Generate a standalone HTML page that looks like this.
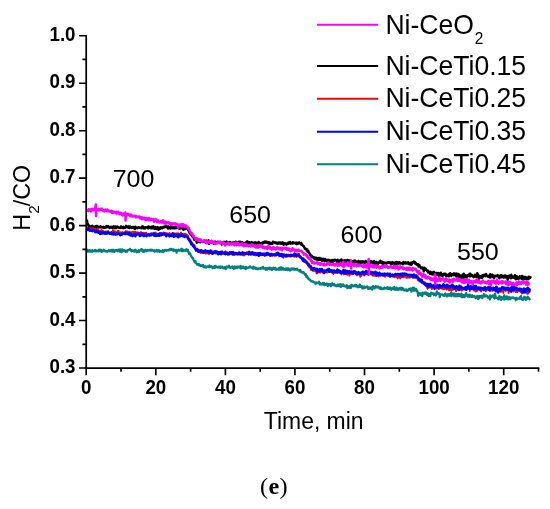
<!DOCTYPE html>
<html><head><meta charset="utf-8"><title>H2/CO vs Time (e)</title>
<style>
html,body{margin:0;padding:0;background:#fff;}
body{width:550px;height:509px;overflow:hidden;}
svg{display:block;}
text{font-family:"Liberation Sans",sans-serif;fill:#000;}
.tk{font-weight:bold;font-size:19.5px;}
.lg{font-size:27.6px;}
.an{font-size:24.4px;}
.ax{font-size:23.4px;}
.cap{font-family:"Liberation Serif",serif;font-size:23.6px;}
</style></head><body>
<svg width="550" height="509" viewBox="0 0 550 509">
<rect width="550" height="509" fill="#fff"/>

<g id="data">
<path d="M86.9 219.6 L87.3 222.7 L87.7 223.7 L88.1 224.8 L88.5 225.5 L88.9 227.5 L89.3 225.7 L89.7 226.4 L90.1 226.3 L90.5 226.6 L90.9 227.1 L91.3 226.3 L91.7 226.2 L92.1 225.8 L92.5 226.1 L92.9 227.2 L93.3 226.9 L93.7 226.4 L94.1 226.8 L94.5 226.9 L94.9 227.4 L95.3 226.6 L95.7 226.8 L96.1 225.9 L96.5 226.3 L96.9 228.2 L97.3 225.9 L97.7 227.0 L98.1 227.4 L98.5 227.0 L98.9 226.8 L99.3 227.3 L99.7 227.3 L100.1 227.4 L100.5 226.2 L100.9 227.2 L101.3 226.8 L101.7 227.0 L102.1 227.4 L102.5 227.6 L102.9 227.6 L103.3 226.8 L103.7 227.7 L104.1 227.8 L104.5 227.7 L104.9 227.8 L105.3 227.0 L105.7 226.8 L106.1 227.4 L106.5 226.1 L106.9 227.3 L107.3 226.8 L107.7 226.7 L108.1 226.0 L108.5 226.6 L108.9 227.2 L109.3 227.9 L109.7 228.0 L110.1 227.4 L110.5 227.2 L110.9 226.7 L111.3 227.4 L111.7 227.0 L112.1 227.6 L112.5 228.2 L112.9 227.2 L113.3 226.4 L113.7 226.8 L114.1 226.4 L114.5 226.7 L114.9 228.3 L115.3 227.7 L115.7 226.6 L116.1 227.8 L116.5 228.0 L116.9 226.8 L117.3 226.5 L117.7 226.7 L118.1 227.0 L118.5 227.4 L118.9 227.7 L119.3 227.7 L119.7 227.7 L120.1 228.0 L120.5 227.8 L120.9 226.4 L121.3 227.4 L121.7 227.8 L122.1 227.0 L122.5 227.9 L122.9 227.2 L123.3 226.7 L123.7 228.2 L124.1 227.6 L124.5 227.5 L124.9 227.9 L125.3 227.9 L125.7 227.5 L126.1 225.8 L126.5 226.7 L126.9 226.8 L127.3 226.5 L127.7 227.1 L128.1 227.7 L128.5 226.5 L128.9 226.2 L129.3 228.1 L129.7 226.7 L130.1 226.4 L130.5 227.3 L130.9 227.5 L131.3 227.1 L131.7 228.0 L132.1 227.3 L132.5 227.0 L132.9 227.6 L133.3 228.0 L133.7 227.1 L134.1 227.9 L134.5 227.4 L134.9 229.0 L135.3 226.7 L135.7 228.2 L136.1 227.3 L136.5 227.4 L136.9 227.9 L137.3 228.0 L137.7 228.2 L138.1 227.6 L138.5 227.1 L138.9 227.2 L139.3 227.7 L139.7 227.7 L140.1 228.0 L140.5 227.6 L140.9 228.0 L141.3 228.2 L141.7 227.4 L142.1 226.5 L142.5 226.6 L142.9 226.5 L143.3 228.4 L143.7 226.8 L144.1 228.1 L144.5 227.7 L144.9 228.5 L145.3 228.0 L145.7 227.2 L146.1 227.2 L146.5 227.4 L146.9 227.5 L147.3 227.1 L147.7 227.4 L148.1 228.4 L148.5 226.4 L148.9 227.7 L149.3 226.9 L149.7 227.6 L150.1 228.0 L150.5 227.6 L150.9 228.2 L151.3 226.6 L151.7 228.4 L152.1 227.4 L152.5 228.2 L152.9 227.9 L153.3 226.1 L153.7 227.3 L154.1 228.0 L154.5 228.9 L154.9 228.1 L155.3 228.1 L155.7 227.1 L156.1 228.9 L156.5 229.1 L156.9 228.3 L157.3 227.9 L157.7 227.1 L158.1 228.7 L158.5 229.8 L158.9 228.7 L159.3 229.1 L159.7 228.5 L160.1 227.4 L160.5 228.8 L160.9 227.2 L161.3 227.8 L161.7 228.1 L162.1 228.3 L162.5 227.6 L162.9 227.5 L163.3 226.9 L163.7 226.7 L164.1 227.5 L164.5 227.0 L164.9 226.5 L165.3 226.4 L165.7 227.0 L166.1 226.2 L166.5 226.5 L166.9 226.4 L167.3 227.5 L167.7 227.6 L168.1 228.6 L168.5 226.5 L168.9 226.9 L169.3 228.0 L169.7 227.4 L170.1 227.3 L170.5 228.6 L170.9 227.5 L171.3 227.0 L171.7 227.0 L172.1 228.1 L172.5 228.2 L172.9 227.0 L173.3 227.3 L173.7 228.3 L174.1 228.3 L174.5 227.3 L174.9 228.2 L175.3 228.2 L175.7 226.8 L176.1 227.5 L176.5 228.0 L176.9 227.3 L177.3 225.9 L177.7 227.0 L178.1 227.8 L178.5 228.3 L178.9 225.8 L179.3 228.7 L179.7 226.7 L180.1 228.1 L180.5 228.4 L180.9 228.6 L181.3 228.1 L181.7 227.3 L182.1 228.4 L182.5 227.7 L182.9 226.6 L183.3 229.9 L183.7 228.5 L184.1 229.3 L184.5 227.5 L184.9 228.9 L185.3 229.0 L185.7 228.9 L186.1 228.2 L186.5 227.8 L186.9 228.5 L187.3 227.8 L187.7 228.6 L188.1 230.2 L188.5 230.1 L188.9 231.1 L189.3 231.8 L189.7 233.4 L190.1 233.4 L190.5 233.1 L190.9 234.5 L191.3 233.8 L191.7 234.9 L192.1 236.3 L192.5 235.5 L192.9 236.6 L193.3 236.4 L193.7 238.1 L194.1 239.6 L194.5 238.7 L194.9 239.9 L195.3 239.7 L195.7 239.8 L196.1 239.9 L196.5 241.8 L196.9 242.7 L197.3 241.6 L197.7 241.0 L198.1 241.9 L198.5 241.3 L198.9 242.1 L199.3 242.0 L199.7 242.1 L200.1 242.3 L200.5 241.6 L200.9 241.4 L201.3 240.6 L201.7 241.5 L202.1 240.9 L202.5 241.7 L202.9 241.1 L203.3 241.7 L203.7 241.8 L204.1 240.7 L204.5 241.1 L204.9 241.1 L205.3 242.0 L205.7 242.7 L206.1 242.4 L206.5 241.6 L206.9 242.7 L207.3 241.1 L207.7 243.0 L208.1 241.6 L208.5 240.3 L208.9 243.9 L209.3 243.2 L209.7 241.5 L210.1 242.1 L210.5 242.0 L210.9 242.1 L211.3 241.0 L211.7 241.8 L212.1 242.4 L212.5 242.1 L212.9 242.9 L213.3 242.3 L213.7 243.9 L214.1 242.1 L214.5 242.9 L214.9 241.6 L215.3 241.7 L215.7 243.4 L216.1 242.1 L216.5 243.0 L216.9 242.5 L217.3 241.8 L217.7 242.0 L218.1 241.9 L218.5 242.0 L218.9 242.9 L219.3 242.9 L219.7 242.0 L220.1 241.7 L220.5 242.5 L220.9 242.4 L221.3 243.2 L221.7 244.4 L222.1 243.3 L222.5 242.8 L222.9 242.5 L223.3 242.2 L223.7 242.0 L224.1 241.8 L224.5 242.2 L224.9 242.2 L225.3 242.8 L225.7 241.9 L226.1 242.0 L226.5 241.4 L226.9 243.3 L227.3 243.0 L227.7 243.9 L228.1 243.2 L228.5 243.4 L228.9 242.4 L229.3 243.1 L229.7 244.3 L230.1 241.9 L230.5 243.3 L230.9 243.5 L231.3 242.8 L231.7 243.2 L232.1 243.6 L232.5 242.4 L232.9 243.1 L233.3 242.4 L233.7 242.5 L234.1 242.5 L234.5 242.6 L234.9 242.7 L235.3 242.8 L235.7 241.7 L236.1 243.9 L236.5 243.3 L236.9 242.9 L237.3 242.3 L237.7 242.6 L238.1 243.2 L238.5 243.1 L238.9 241.8 L239.3 243.2 L239.7 244.4 L240.1 241.6 L240.5 243.6 L240.9 243.0 L241.3 242.8 L241.7 243.8 L242.1 242.2 L242.5 243.0 L242.9 244.0 L243.3 242.9 L243.7 242.9 L244.1 243.2 L244.5 243.2 L244.9 244.3 L245.3 242.7 L245.7 243.5 L246.1 242.2 L246.5 243.5 L246.9 243.0 L247.3 241.3 L247.7 243.0 L248.1 242.1 L248.5 242.5 L248.9 243.7 L249.3 242.2 L249.7 242.2 L250.1 243.6 L250.5 242.9 L250.9 243.6 L251.3 242.7 L251.7 242.0 L252.1 242.7 L252.5 243.4 L252.9 243.2 L253.3 242.6 L253.7 242.6 L254.1 242.7 L254.5 242.4 L254.9 244.3 L255.3 243.0 L255.7 242.2 L256.1 242.8 L256.5 243.5 L256.9 243.5 L257.3 243.1 L257.7 242.8 L258.1 243.3 L258.5 241.9 L258.9 242.2 L259.3 243.6 L259.7 242.9 L260.1 243.4 L260.5 243.9 L260.9 243.4 L261.3 243.0 L261.7 244.2 L262.1 243.2 L262.5 242.6 L262.9 243.4 L263.3 243.0 L263.7 242.1 L264.1 242.7 L264.5 242.6 L264.9 241.4 L265.3 242.6 L265.7 242.6 L266.1 242.6 L266.5 241.7 L266.9 242.7 L267.3 242.9 L267.7 242.9 L268.1 242.1 L268.5 243.4 L268.9 242.2 L269.3 243.0 L269.7 243.9 L270.1 242.7 L270.5 242.8 L270.9 244.1 L271.3 243.2 L271.7 243.2 L272.1 243.3 L272.5 243.8 L272.9 241.7 L273.3 242.7 L273.7 242.5 L274.1 242.3 L274.5 242.2 L274.9 242.5 L275.3 243.1 L275.7 242.5 L276.1 243.2 L276.5 243.4 L276.9 242.5 L277.3 243.1 L277.7 244.0 L278.1 243.1 L278.5 242.5 L278.9 243.2 L279.3 242.6 L279.7 243.4 L280.1 243.5 L280.5 242.5 L280.9 242.9 L281.3 243.9 L281.7 243.0 L282.1 243.2 L282.5 242.3 L282.9 242.5 L283.3 242.9 L283.7 244.9 L284.1 243.3 L284.5 243.2 L284.9 243.2 L285.3 243.4 L285.7 243.9 L286.1 243.7 L286.5 244.7 L286.9 243.5 L287.3 244.1 L287.7 243.4 L288.1 243.7 L288.5 242.4 L288.9 243.1 L289.3 243.2 L289.7 243.1 L290.1 242.0 L290.5 243.8 L290.9 242.9 L291.3 242.9 L291.7 242.9 L292.1 242.9 L292.5 243.4 L292.9 242.2 L293.3 242.5 L293.7 243.2 L294.1 243.1 L294.5 242.9 L294.9 242.7 L295.3 242.6 L295.7 243.1 L296.1 243.9 L296.5 242.7 L296.9 244.2 L297.3 243.8 L297.7 243.0 L298.1 243.8 L298.5 242.4 L298.9 242.4 L299.3 242.5 L299.7 243.3 L300.1 243.5 L300.5 243.7 L300.9 244.3 L301.3 243.0 L301.7 244.9 L302.1 244.3 L302.5 245.2 L302.9 245.9 L303.3 245.7 L303.7 246.0 L304.1 246.8 L304.5 247.9 L304.9 248.8 L305.3 249.1 L305.7 248.6 L306.1 249.1 L306.5 249.2 L306.9 250.7 L307.3 249.4 L307.7 251.7 L308.1 250.8 L308.5 251.2 L308.9 252.5 L309.3 253.3 L309.7 253.5 L310.1 254.8 L310.5 254.5 L310.9 255.8 L311.3 256.3 L311.7 255.8 L312.1 257.2 L312.5 256.9 L312.9 257.2 L313.3 256.9 L313.7 257.6 L314.1 258.6 L314.5 257.5 L314.9 259.1 L315.3 259.2 L315.7 259.3 L316.1 257.6 L316.5 259.2 L316.9 259.6 L317.3 258.7 L317.7 259.5 L318.1 257.9 L318.5 260.0 L318.9 258.9 L319.3 259.9 L319.7 258.0 L320.1 259.6 L320.5 258.9 L320.9 259.8 L321.3 258.6 L321.7 258.9 L322.1 260.8 L322.5 258.9 L322.9 259.1 L323.3 259.2 L323.7 258.8 L324.1 260.7 L324.5 261.2 L324.9 259.6 L325.3 259.0 L325.7 261.1 L326.1 261.1 L326.5 261.0 L326.9 261.5 L327.3 260.1 L327.7 260.6 L328.1 259.9 L328.5 259.7 L328.9 261.4 L329.3 260.2 L329.7 262.4 L330.1 260.8 L330.5 260.5 L330.9 261.5 L331.3 262.1 L331.7 261.0 L332.1 259.9 L332.5 261.2 L332.9 261.7 L333.3 260.2 L333.7 260.0 L334.1 261.1 L334.5 260.4 L334.9 259.7 L335.3 260.3 L335.7 260.0 L336.1 260.7 L336.5 260.8 L336.9 261.7 L337.3 261.5 L337.7 259.8 L338.1 261.3 L338.5 261.6 L338.9 261.2 L339.3 261.7 L339.7 260.6 L340.1 260.2 L340.5 261.6 L340.9 260.0 L341.3 259.4 L341.7 261.7 L342.1 260.4 L342.5 261.0 L342.9 260.4 L343.3 260.6 L343.7 260.9 L344.1 261.5 L344.5 262.2 L344.9 260.2 L345.3 262.4 L345.7 261.0 L346.1 261.1 L346.5 262.0 L346.9 261.1 L347.3 259.9 L347.7 262.4 L348.1 260.2 L348.5 261.0 L348.9 261.1 L349.3 262.0 L349.7 260.6 L350.1 261.8 L350.5 260.7 L350.9 262.2 L351.3 260.6 L351.7 261.1 L352.1 262.8 L352.5 261.6 L352.9 261.3 L353.3 262.9 L353.7 261.6 L354.1 260.7 L354.5 261.7 L354.9 260.4 L355.3 262.3 L355.7 262.4 L356.1 261.2 L356.5 261.3 L356.9 262.2 L357.3 262.0 L357.7 261.4 L358.1 262.8 L358.5 261.0 L358.9 262.0 L359.3 261.8 L359.7 262.2 L360.1 262.7 L360.5 261.5 L360.9 262.9 L361.3 262.2 L361.7 261.8 L362.1 261.2 L362.5 261.3 L362.9 262.6 L363.3 261.4 L363.7 261.8 L364.1 262.5 L364.5 262.3 L364.9 262.9 L365.3 261.5 L365.7 260.9 L366.1 262.1 L366.5 261.7 L366.9 262.3 L367.3 261.9 L367.7 262.9 L368.1 262.7 L368.5 262.5 L368.9 262.3 L369.3 262.2 L369.7 262.3 L370.1 262.2 L370.5 262.5 L370.9 261.3 L371.3 262.6 L371.7 261.3 L372.1 262.3 L372.5 261.6 L372.9 261.6 L373.3 263.3 L373.7 261.5 L374.1 260.9 L374.5 261.3 L374.9 261.9 L375.3 263.9 L375.7 262.7 L376.1 263.3 L376.5 261.9 L376.9 263.1 L377.3 263.4 L377.7 264.4 L378.1 262.6 L378.5 263.3 L378.9 262.9 L379.3 261.8 L379.7 262.3 L380.1 262.2 L380.5 260.8 L380.9 262.9 L381.3 262.9 L381.7 262.3 L382.1 261.7 L382.5 263.7 L382.9 262.8 L383.3 263.6 L383.7 264.0 L384.1 262.3 L384.5 263.5 L384.9 262.7 L385.3 262.8 L385.7 262.7 L386.1 263.0 L386.5 263.6 L386.9 262.8 L387.3 262.5 L387.7 262.5 L388.1 262.8 L388.5 262.2 L388.9 262.3 L389.3 262.8 L389.7 262.2 L390.1 262.7 L390.5 262.5 L390.9 264.4 L391.3 263.6 L391.7 262.9 L392.1 262.2 L392.5 263.9 L392.9 262.6 L393.3 262.4 L393.7 262.9 L394.1 262.8 L394.5 263.6 L394.9 262.7 L395.3 264.2 L395.7 262.1 L396.1 263.3 L396.5 262.0 L396.9 263.8 L397.3 262.2 L397.7 262.4 L398.1 263.3 L398.5 263.7 L398.9 262.2 L399.3 262.9 L399.7 262.2 L400.1 263.5 L400.5 263.6 L400.9 263.4 L401.3 263.0 L401.7 263.2 L402.1 262.9 L402.5 263.8 L402.9 264.3 L403.3 261.9 L403.7 263.2 L404.1 262.8 L404.5 263.3 L404.9 262.4 L405.3 263.0 L405.7 262.3 L406.1 263.5 L406.5 263.2 L406.9 262.9 L407.3 263.2 L407.7 262.9 L408.1 262.3 L408.5 264.1 L408.9 263.8 L409.3 263.6 L409.7 264.3 L410.1 264.6 L410.5 262.8 L410.9 263.0 L411.3 264.8 L411.7 264.5 L412.1 262.5 L412.5 262.2 L412.9 262.5 L413.3 262.5 L413.7 261.6 L414.1 263.0 L414.5 262.0 L414.9 262.0 L415.3 263.8 L415.7 262.9 L416.1 263.6 L416.5 264.5 L416.9 264.8 L417.3 264.3 L417.7 264.7 L418.1 264.2 L418.5 266.6 L418.9 266.2 L419.3 265.0 L419.7 266.2 L420.1 266.9 L420.5 267.2 L420.9 268.4 L421.3 268.4 L421.7 267.5 L422.1 268.3 L422.5 267.4 L422.9 268.8 L423.3 268.9 L423.7 271.4 L424.1 269.4 L424.5 267.7 L424.9 269.1 L425.3 269.7 L425.7 268.7 L426.1 269.5 L426.5 270.2 L426.9 271.1 L427.3 270.6 L427.7 270.4 L428.1 272.6 L428.5 271.9 L428.9 272.2 L429.3 271.7 L429.7 272.5 L430.1 273.8 L430.5 271.8 L430.9 273.4 L431.3 274.2 L431.7 273.0 L432.1 273.5 L432.5 272.3 L432.9 274.6 L433.3 274.2 L433.7 273.5 L434.1 271.8 L434.5 272.6 L434.9 274.2 L435.3 275.0 L435.7 273.9 L436.1 274.7 L436.5 273.0 L436.9 273.3 L437.3 273.8 L437.7 274.6 L438.1 272.9 L438.5 275.4 L438.9 275.9 L439.3 273.5 L439.7 273.5 L440.1 275.3 L440.5 274.4 L440.9 272.7 L441.3 275.4 L441.7 274.8 L442.1 274.2 L442.5 276.5 L442.9 274.7 L443.3 274.0 L443.7 274.6 L444.1 273.8 L444.5 273.8 L444.9 274.7 L445.3 273.7 L445.7 273.9 L446.1 276.1 L446.5 275.3 L446.9 275.3 L447.3 275.0 L447.7 274.8 L448.1 275.8 L448.5 274.9 L448.9 276.4 L449.3 273.8 L449.7 274.4 L450.1 273.2 L450.5 274.2 L450.9 275.1 L451.3 275.9 L451.7 273.9 L452.1 274.5 L452.5 274.6 L452.9 274.0 L453.3 273.8 L453.7 275.2 L454.1 273.3 L454.5 275.1 L454.9 275.2 L455.3 274.6 L455.7 274.1 L456.1 273.6 L456.5 276.8 L456.9 273.6 L457.3 276.2 L457.7 275.6 L458.1 274.7 L458.5 274.1 L458.9 276.4 L459.3 277.2 L459.7 275.1 L460.1 275.6 L460.5 277.0 L460.9 276.4 L461.3 278.1 L461.7 275.9 L462.1 276.6 L462.5 274.6 L462.9 277.8 L463.3 274.9 L463.7 273.7 L464.1 275.6 L464.5 275.7 L464.9 277.5 L465.3 275.1 L465.7 275.9 L466.1 276.3 L466.5 277.2 L466.9 275.4 L467.3 276.5 L467.7 276.0 L468.1 275.1 L468.5 275.4 L468.9 275.2 L469.3 274.1 L469.7 276.2 L470.1 273.7 L470.5 276.3 L470.9 276.1 L471.3 275.2 L471.7 274.8 L472.1 275.3 L472.5 276.1 L472.9 276.6 L473.3 276.5 L473.7 277.2 L474.1 275.6 L474.5 276.2 L474.9 274.6 L475.3 276.5 L475.7 276.1 L476.1 275.5 L476.5 277.0 L476.9 276.3 L477.3 273.1 L477.7 275.9 L478.1 274.5 L478.5 277.2 L478.9 278.7 L479.3 276.0 L479.7 276.7 L480.1 276.3 L480.5 276.9 L480.9 277.2 L481.3 277.8 L481.7 275.7 L482.1 277.9 L482.5 275.2 L482.9 276.1 L483.3 276.5 L483.7 276.2 L484.1 274.6 L484.5 274.7 L484.9 274.9 L485.3 275.3 L485.7 276.3 L486.1 274.0 L486.5 275.6 L486.9 275.8 L487.3 275.5 L487.7 275.8 L488.1 276.8 L488.5 275.9 L488.9 276.1 L489.3 276.0 L489.7 277.4 L490.1 274.1 L490.5 277.5 L490.9 276.4 L491.3 276.2 L491.7 275.7 L492.1 274.7 L492.5 276.4 L492.9 276.0 L493.3 277.3 L493.7 275.5 L494.1 278.4 L494.5 276.8 L494.9 276.3 L495.3 275.9 L495.7 276.0 L496.1 275.5 L496.5 276.0 L496.9 276.3 L497.3 276.1 L497.7 275.1 L498.1 276.6 L498.5 275.9 L498.9 276.7 L499.3 278.3 L499.7 277.4 L500.1 276.4 L500.5 275.3 L500.9 275.6 L501.3 275.2 L501.7 277.3 L502.1 275.9 L502.5 276.6 L502.9 275.9 L503.3 276.1 L503.7 277.6 L504.1 275.6 L504.5 275.9 L504.9 275.6 L505.3 277.5 L505.7 275.7 L506.1 275.9 L506.5 276.0 L506.9 276.2 L507.3 277.7 L507.7 279.8 L508.1 276.2 L508.5 278.0 L508.9 276.8 L509.3 275.5 L509.7 276.2 L510.1 276.0 L510.5 275.7 L510.9 278.4 L511.3 274.8 L511.7 277.4 L512.1 276.8 L512.5 276.3 L512.9 277.1 L513.3 277.8 L513.7 277.2 L514.1 277.3 L514.5 277.5 L514.9 275.1 L515.3 278.3 L515.7 279.3 L516.1 278.4 L516.5 278.8 L516.9 276.3 L517.3 277.6 L517.7 277.4 L518.1 277.8 L518.5 279.3 L518.9 277.5 L519.3 278.2 L519.7 276.2 L520.1 277.5 L520.5 278.0 L520.9 277.2 L521.3 276.8 L521.7 279.0 L522.1 276.0 L522.5 276.1 L522.9 276.4 L523.3 278.5 L523.7 279.5 L524.1 277.8 L524.5 276.9 L524.9 277.3 L525.3 278.9 L525.7 277.0 L526.1 279.4 L526.5 279.3 L526.9 278.1 L527.3 278.6 L527.7 278.5 L528.1 279.2 L528.5 276.6 L528.9 278.8 L529.3 277.3 L529.7 277.0 L530.1 277.9 L530.5 277.1 L530.9 276.2" fill="none" stroke="#000000" stroke-width="2.4" stroke-linejoin="round" stroke-linecap="butt"/>
<path d="M87.0 227.9 L87.4 228.4 L87.8 228.0 L88.2 228.6 L88.6 229.9 L89.0 228.8 L89.4 228.8 L89.8 228.3 L90.2 228.3 L90.6 230.1 L91.0 227.9 L91.4 228.5 L91.8 229.4 L92.2 229.2 L92.6 231.3 L93.0 228.0 L93.4 230.4 L93.8 230.6 L94.2 229.2 L94.6 229.8 L95.0 230.5 L95.4 231.4 L95.8 229.6 L96.2 229.1 L96.6 231.2 L97.0 231.2 L97.4 229.9 L97.8 228.4 L98.2 231.5 L98.6 230.5 L99.0 231.6 L99.4 230.8 L99.8 230.6 L100.2 230.6 L100.6 232.5 L101.0 232.4 L101.4 229.8 L101.8 230.9 L102.2 232.8 L102.6 231.3 L103.0 230.5 L103.4 231.7 L103.8 231.6 L104.2 231.7 L104.6 231.6 L105.0 231.9 L105.4 231.6 L105.8 232.1 L106.2 231.3 L106.6 231.8 L107.0 231.9 L107.4 233.2 L107.8 232.6 L108.2 232.2 L108.6 232.6 L109.0 232.9 L109.4 233.6 L109.8 233.0 L110.2 234.0 L110.6 233.6 L111.0 232.2 L111.4 231.9 L111.8 232.9 L112.2 232.6 L112.6 231.8 L113.0 230.5 L113.4 230.1 L113.8 231.7 L114.2 232.3 L114.6 232.6 L115.0 231.3 L115.4 233.2 L115.8 232.0 L116.2 232.7 L116.6 232.5 L117.0 231.6 L117.4 231.9 L117.8 230.8 L118.2 231.6 L118.6 230.7 L119.0 232.4 L119.4 232.3 L119.8 233.2 L120.2 233.1 L120.6 232.3 L121.0 233.0 L121.4 232.5 L121.8 233.4 L122.2 233.2 L122.6 232.0 L123.0 232.8 L123.4 232.6 L123.8 232.5 L124.2 233.5 L124.6 234.4 L125.0 232.5 L125.4 232.5 L125.8 231.0 L126.2 232.8 L126.6 232.5 L127.0 231.2 L127.4 233.2 L127.8 233.4 L128.2 232.4 L128.6 232.7 L129.0 232.0 L129.4 233.4 L129.8 231.6 L130.2 232.6 L130.6 234.5 L131.0 232.8 L131.4 233.0 L131.8 232.5 L132.2 231.7 L132.6 232.6 L133.0 232.9 L133.4 231.9 L133.8 233.0 L134.2 233.6 L134.6 233.7 L135.0 231.7 L135.4 232.2 L135.8 231.9 L136.2 234.2 L136.6 233.7 L137.0 233.7 L137.4 232.5 L137.8 232.3 L138.2 233.3 L138.6 233.3 L139.0 232.6 L139.4 233.7 L139.8 234.0 L140.2 233.8 L140.6 233.0 L141.0 231.9 L141.4 233.3 L141.8 233.6 L142.2 233.6 L142.6 233.4 L143.0 232.8 L143.4 233.9 L143.8 233.3 L144.2 233.4 L144.6 232.8 L145.0 232.9 L145.4 233.6 L145.8 232.6 L146.2 232.7 L146.6 233.6 L147.0 234.8 L147.4 234.2 L147.8 235.4 L148.2 234.3 L148.6 234.5 L149.0 233.7 L149.4 234.2 L149.8 235.6 L150.2 234.7 L150.6 235.0 L151.0 234.8 L151.4 233.9 L151.8 233.4 L152.2 233.3 L152.6 233.8 L153.0 233.6 L153.4 233.4 L153.8 233.2 L154.2 232.6 L154.6 233.1 L155.0 233.0 L155.4 234.8 L155.8 232.5 L156.2 234.1 L156.6 236.2 L157.0 234.3 L157.4 233.7 L157.8 234.4 L158.2 235.4 L158.6 234.0 L159.0 234.3 L159.4 234.0 L159.8 233.3 L160.2 235.9 L160.6 233.6 L161.0 233.0 L161.4 233.1 L161.8 233.7 L162.2 233.7 L162.6 234.0 L163.0 233.6 L163.4 232.4 L163.8 234.2 L164.2 233.5 L164.6 233.5 L165.0 232.6 L165.4 233.6 L165.8 233.5 L166.2 234.2 L166.6 233.2 L167.0 234.4 L167.4 234.4 L167.8 233.5 L168.2 234.0 L168.6 234.0 L169.0 235.3 L169.4 232.8 L169.8 234.4 L170.2 233.5 L170.6 234.4 L171.0 235.2 L171.4 234.1 L171.8 234.6 L172.2 233.6 L172.6 235.7 L173.0 234.7 L173.4 235.1 L173.8 233.1 L174.2 233.1 L174.6 235.1 L175.0 234.0 L175.4 234.1 L175.8 234.6 L176.2 233.1 L176.6 234.8 L177.0 234.0 L177.4 234.2 L177.8 233.3 L178.2 234.2 L178.6 233.5 L179.0 234.3 L179.4 234.7 L179.8 234.8 L180.2 234.7 L180.6 234.9 L181.0 232.4 L181.4 235.5 L181.8 234.7 L182.2 234.7 L182.6 234.7 L183.0 233.7 L183.4 234.2 L183.8 235.1 L184.2 235.6 L184.6 234.0 L185.0 233.7 L185.4 235.5 L185.8 233.8 L186.2 236.2 L186.6 234.9 L187.0 234.6 L187.4 236.6 L187.8 237.7 L188.2 236.0 L188.6 239.0 L189.0 238.2 L189.4 240.4 L189.8 239.5 L190.2 239.4 L190.6 241.6 L191.0 242.4 L191.4 243.9 L191.8 244.1 L192.2 243.8 L192.6 243.9 L193.0 244.2 L193.4 245.0 L193.8 245.2 L194.2 246.3 L194.6 245.0 L195.0 248.0 L195.4 248.4 L195.8 251.1 L196.2 250.3 L196.6 249.7 L197.0 250.7 L197.4 249.4 L197.8 250.1 L198.2 249.5 L198.6 252.1 L199.0 251.8 L199.4 250.6 L199.8 251.7 L200.2 252.8 L200.6 252.7 L201.0 253.1 L201.4 252.0 L201.8 251.9 L202.2 252.6 L202.6 253.1 L203.0 251.7 L203.4 251.1 L203.8 252.9 L204.2 251.4 L204.6 252.8 L205.0 252.3 L205.4 253.1 L205.8 253.7 L206.2 253.0 L206.6 253.1 L207.0 252.1 L207.4 252.3 L207.8 253.3 L208.2 253.8 L208.6 253.6 L209.0 254.2 L209.4 252.6 L209.8 252.4 L210.2 253.1 L210.6 252.3 L211.0 252.0 L211.4 251.4 L211.8 253.0 L212.2 251.4 L212.6 252.7 L213.0 251.4 L213.4 253.2 L213.8 251.6 L214.2 253.3 L214.6 251.7 L215.0 252.3 L215.4 253.6 L215.8 252.2 L216.2 252.9 L216.6 252.5 L217.0 251.2 L217.4 253.3 L217.8 253.4 L218.2 252.2 L218.6 253.5 L219.0 252.6 L219.4 252.3 L219.8 252.8 L220.2 252.3 L220.6 254.7 L221.0 251.6 L221.4 253.5 L221.8 253.4 L222.2 251.2 L222.6 251.5 L223.0 253.3 L223.4 252.8 L223.8 253.3 L224.2 253.7 L224.6 252.7 L225.0 252.1 L225.4 251.3 L225.8 253.6 L226.2 252.6 L226.6 253.7 L227.0 253.4 L227.4 252.1 L227.8 255.0 L228.2 254.6 L228.6 254.4 L229.0 252.7 L229.4 253.4 L229.8 253.5 L230.2 253.6 L230.6 253.1 L231.0 254.3 L231.4 254.0 L231.8 254.3 L232.2 253.6 L232.6 255.0 L233.0 253.9 L233.4 251.6 L233.8 253.2 L234.2 253.9 L234.6 254.9 L235.0 253.8 L235.4 253.9 L235.8 253.5 L236.2 254.6 L236.6 253.6 L237.0 253.7 L237.4 253.7 L237.8 254.5 L238.2 253.6 L238.6 252.8 L239.0 254.6 L239.4 253.6 L239.8 254.2 L240.2 254.4 L240.6 254.9 L241.0 254.4 L241.4 253.3 L241.8 253.6 L242.2 252.7 L242.6 255.3 L243.0 254.4 L243.4 255.4 L243.8 253.9 L244.2 252.7 L244.6 255.4 L245.0 254.2 L245.4 254.1 L245.8 253.9 L246.2 254.0 L246.6 253.7 L247.0 251.9 L247.4 253.9 L247.8 252.8 L248.2 253.0 L248.6 254.9 L249.0 254.5 L249.4 253.6 L249.8 252.5 L250.2 254.0 L250.6 254.8 L251.0 254.6 L251.4 253.7 L251.8 253.9 L252.2 253.5 L252.6 254.3 L253.0 254.7 L253.4 254.9 L253.8 253.7 L254.2 254.2 L254.6 254.4 L255.0 253.5 L255.4 253.9 L255.8 255.6 L256.2 254.3 L256.6 255.0 L257.0 253.7 L257.4 254.3 L257.8 253.0 L258.2 254.4 L258.6 255.4 L259.0 256.1 L259.4 255.4 L259.8 254.9 L260.2 254.4 L260.6 254.1 L261.0 254.1 L261.4 254.9 L261.8 253.5 L262.2 255.0 L262.6 253.5 L263.0 253.1 L263.4 253.7 L263.8 253.4 L264.2 253.6 L264.6 255.6 L265.0 254.4 L265.4 254.6 L265.8 255.2 L266.2 255.3 L266.6 253.8 L267.0 255.3 L267.4 254.4 L267.8 254.2 L268.2 254.6 L268.6 253.2 L269.0 254.1 L269.4 254.8 L269.8 255.3 L270.2 254.5 L270.6 254.7 L271.0 255.5 L271.4 255.6 L271.8 255.1 L272.2 255.6 L272.6 254.3 L273.0 254.3 L273.4 254.9 L273.8 254.3 L274.2 254.1 L274.6 255.9 L275.0 254.4 L275.4 253.8 L275.8 254.9 L276.2 255.7 L276.6 254.2 L277.0 255.1 L277.4 253.9 L277.8 254.1 L278.2 254.0 L278.6 254.6 L279.0 256.1 L279.4 253.8 L279.8 256.4 L280.2 254.4 L280.6 255.1 L281.0 256.1 L281.4 256.2 L281.8 255.8 L282.2 254.6 L282.6 256.3 L283.0 255.2 L283.4 257.8 L283.8 255.8 L284.2 256.0 L284.6 254.8 L285.0 255.3 L285.4 254.7 L285.8 256.1 L286.2 255.2 L286.6 256.0 L287.0 255.2 L287.4 255.1 L287.8 256.7 L288.2 255.0 L288.6 254.4 L289.0 256.1 L289.4 255.1 L289.8 255.5 L290.2 256.3 L290.6 254.7 L291.0 256.3 L291.4 255.0 L291.8 256.5 L292.2 256.3 L292.6 255.2 L293.0 255.5 L293.4 255.0 L293.8 256.0 L294.2 256.9 L294.6 254.7 L295.0 256.5 L295.4 255.0 L295.8 255.4 L296.2 254.5 L296.6 257.1 L297.0 255.4 L297.4 255.5 L297.8 254.7 L298.2 256.2 L298.6 253.8 L299.0 255.5 L299.4 257.2 L299.8 255.4 L300.2 256.3 L300.6 257.4 L301.0 257.1 L301.4 258.3 L301.8 259.3 L302.2 259.0 L302.6 259.6 L303.0 259.3 L303.4 260.3 L303.8 260.4 L304.2 262.2 L304.6 261.7 L305.0 261.1 L305.4 259.8 L305.8 262.7 L306.2 263.2 L306.6 262.5 L307.0 262.3 L307.4 263.4 L307.8 265.5 L308.2 264.4 L308.6 265.5 L309.0 266.4 L309.4 267.6 L309.8 267.2 L310.2 267.7 L310.6 267.7 L311.0 270.1 L311.4 269.9 L311.8 269.3 L312.2 268.4 L312.6 269.4 L313.0 270.9 L313.4 269.8 L313.8 271.0 L314.2 270.8 L314.6 270.8 L315.0 271.1 L315.4 271.4 L315.8 270.5 L316.2 270.9 L316.6 273.5 L317.0 270.8 L317.4 271.5 L317.8 273.0 L318.2 271.9 L318.6 271.4 L319.0 270.5 L319.4 272.2 L319.8 272.4 L320.2 272.7 L320.6 271.3 L321.0 272.0 L321.4 270.2 L321.8 271.4 L322.2 270.8 L322.6 272.1 L323.0 272.5 L323.4 273.2 L323.8 271.2 L324.2 273.4 L324.6 272.1 L325.0 271.6 L325.4 272.3 L325.8 271.1 L326.2 272.2 L326.6 272.5 L327.0 271.9 L327.4 272.5 L327.8 271.8 L328.2 271.9 L328.6 270.6 L329.0 272.1 L329.4 271.0 L329.8 271.2 L330.2 271.6 L330.6 271.7 L331.0 270.6 L331.4 270.2 L331.8 271.8 L332.2 272.8 L332.6 272.6 L333.0 273.5 L333.4 274.0 L333.8 273.1 L334.2 272.9 L334.6 271.6 L335.0 272.0 L335.4 272.4 L335.8 272.7 L336.2 272.5 L336.6 272.4 L337.0 272.0 L337.4 273.0 L337.8 272.6 L338.2 272.6 L338.6 272.7 L339.0 271.7 L339.4 271.3 L339.8 272.8 L340.2 272.6 L340.6 272.4 L341.0 272.0 L341.4 274.5 L341.8 272.0 L342.2 272.6 L342.6 273.1 L343.0 271.9 L343.4 272.9 L343.8 274.6 L344.2 273.8 L344.6 274.0 L345.0 274.0 L345.4 273.6 L345.8 274.3 L346.2 273.4 L346.6 273.3 L347.0 274.1 L347.4 274.9 L347.8 274.2 L348.2 274.1 L348.6 271.7 L349.0 274.7 L349.4 275.7 L349.8 274.9 L350.2 273.4 L350.6 272.7 L351.0 273.6 L351.4 272.3 L351.8 274.1 L352.2 272.6 L352.6 273.9 L353.0 274.2 L353.4 271.1 L353.8 273.3 L354.2 272.4 L354.6 271.7 L355.0 272.6 L355.4 272.7 L355.8 274.1 L356.2 271.9 L356.6 274.4 L357.0 275.4 L357.4 274.3 L357.8 274.3 L358.2 274.1 L358.6 273.0 L359.0 274.9 L359.4 274.9 L359.8 275.0 L360.2 276.9 L360.6 275.0 L361.0 274.8 L361.4 275.9 L361.8 273.1 L362.2 273.1 L362.6 274.0 L363.0 273.6 L363.4 274.9 L363.8 273.9 L364.2 275.6 L364.6 275.1 L365.0 274.1 L365.4 273.0 L365.8 274.1 L366.2 274.1 L366.6 272.3 L367.0 273.8 L367.4 274.2 L367.8 273.6 L368.2 275.0 L368.6 274.9 L369.0 273.2 L369.4 273.9 L369.8 273.1 L370.2 274.4 L370.6 272.9 L371.0 274.3 L371.4 274.4 L371.8 274.9 L372.2 273.8 L372.6 272.8 L373.0 275.9 L373.4 274.3 L373.8 275.6 L374.2 275.1 L374.6 275.3 L375.0 275.9 L375.4 274.7 L375.8 275.9 L376.2 273.3 L376.6 275.5 L377.0 274.4 L377.4 274.8 L377.8 274.9 L378.2 275.4 L378.6 276.6 L379.0 273.3 L379.4 275.2 L379.8 274.2 L380.2 275.8 L380.6 274.4 L381.0 275.0 L381.4 274.2 L381.8 275.3 L382.2 275.4 L382.6 274.5 L383.0 275.2 L383.4 274.1 L383.8 275.7 L384.2 276.3 L384.6 275.4 L385.0 276.8 L385.4 273.8 L385.8 274.3 L386.2 274.7 L386.6 275.3 L387.0 275.8 L387.4 275.7 L387.8 275.6 L388.2 276.0 L388.6 275.1 L389.0 274.3 L389.4 274.4 L389.8 277.2 L390.2 273.4 L390.6 275.3 L391.0 276.6 L391.4 275.9 L391.8 274.7 L392.2 275.7 L392.6 276.5 L393.0 276.9 L393.4 275.2 L393.8 276.4 L394.2 276.0 L394.6 277.3 L395.0 277.1 L395.4 275.7 L395.8 274.7 L396.2 276.2 L396.6 277.3 L397.0 276.6 L397.4 276.2 L397.8 278.5 L398.2 275.2 L398.6 277.3 L399.0 276.0 L399.4 276.6 L399.8 277.0 L400.2 278.5 L400.6 276.1 L401.0 276.5 L401.4 275.5 L401.8 277.4 L402.2 276.4 L402.6 277.1 L403.0 275.7 L403.4 276.1 L403.8 277.3 L404.2 276.0 L404.6 276.7 L405.0 276.5 L405.4 275.8 L405.8 274.8 L406.2 277.5 L406.6 276.7 L407.0 278.0 L407.4 275.5 L407.8 276.0 L408.2 275.5 L408.6 276.2 L409.0 277.8 L409.4 277.4 L409.8 276.9 L410.2 276.9 L410.6 277.3 L411.0 276.2 L411.4 276.8 L411.8 276.3 L412.2 274.6 L412.6 276.3 L413.0 278.0 L413.4 276.1 L413.8 276.4 L414.2 275.9 L414.6 276.3 L415.0 278.0 L415.4 277.4 L415.8 277.0 L416.2 275.3 L416.6 277.8 L417.0 276.6 L417.4 277.4 L417.8 280.2 L418.2 280.4 L418.6 278.0 L419.0 280.9 L419.4 280.6 L419.8 279.7 L420.2 281.6 L420.6 280.1 L421.0 280.7 L421.4 280.5 L421.8 281.0 L422.2 283.3 L422.6 281.4 L423.0 282.1 L423.4 282.6 L423.8 284.2 L424.2 283.6 L424.6 285.0 L425.0 283.9 L425.4 283.9 L425.8 285.5 L426.2 286.2 L426.6 285.4 L427.0 287.1 L427.4 288.8 L427.8 286.1 L428.2 286.9 L428.6 288.1 L429.0 286.0 L429.4 285.5 L429.8 285.5 L430.2 287.4 L430.6 287.5 L431.0 286.9 L431.4 287.3 L431.8 289.0 L432.2 288.8 L432.6 286.2 L433.0 288.0 L433.4 287.9 L433.8 288.3 L434.2 287.0 L434.6 286.7 L435.0 287.1 L435.4 285.8 L435.8 287.7 L436.2 287.2 L436.6 288.6 L437.0 287.1 L437.4 287.9 L437.8 287.5 L438.2 287.3 L438.6 289.1 L439.0 287.6 L439.4 288.8 L439.8 286.8 L440.2 288.3 L440.6 286.0 L441.0 287.5 L441.4 287.5 L441.8 288.7 L442.2 288.5 L442.6 288.0 L443.0 289.3 L443.4 288.8 L443.8 288.9 L444.2 289.2 L444.6 288.0 L445.0 287.8 L445.4 288.6 L445.8 287.8 L446.2 288.8 L446.6 289.6 L447.0 289.4 L447.4 288.0 L447.8 287.0 L448.2 288.8 L448.6 288.8 L449.0 290.6 L449.4 288.6 L449.8 288.9 L450.2 290.2 L450.6 288.6 L451.0 288.8 L451.4 290.9 L451.8 290.4 L452.2 289.5 L452.6 288.9 L453.0 287.6 L453.4 289.7 L453.8 289.1 L454.2 289.2 L454.6 288.6 L455.0 289.4 L455.4 289.6 L455.8 290.1 L456.2 291.4 L456.6 290.4 L457.0 287.8 L457.4 288.2 L457.8 287.9 L458.2 288.8 L458.6 290.4 L459.0 290.2 L459.4 289.3 L459.8 290.4 L460.2 288.9 L460.6 287.9 L461.0 287.8 L461.4 288.1 L461.8 290.6 L462.2 287.3 L462.6 290.0 L463.0 289.8 L463.4 288.0 L463.8 288.3 L464.2 287.6 L464.6 288.6 L465.0 289.5 L465.4 288.5 L465.8 289.4 L466.2 290.0 L466.6 289.2 L467.0 289.3 L467.4 288.9 L467.8 289.3 L468.2 287.2 L468.6 289.0 L469.0 289.0 L469.4 287.6 L469.8 291.2 L470.2 287.5 L470.6 287.4 L471.0 288.8 L471.4 286.2 L471.8 287.4 L472.2 286.6 L472.6 287.5 L473.0 289.0 L473.4 289.5 L473.8 290.5 L474.2 290.2 L474.6 290.8 L475.0 290.4 L475.4 289.3 L475.8 291.5 L476.2 289.2 L476.6 288.7 L477.0 291.1 L477.4 290.1 L477.8 289.5 L478.2 289.8 L478.6 289.8 L479.0 287.5 L479.4 288.8 L479.8 287.6 L480.2 289.5 L480.6 289.1 L481.0 291.5 L481.4 290.2 L481.8 288.6 L482.2 289.7 L482.6 288.1 L483.0 289.9 L483.4 290.4 L483.8 290.0 L484.2 287.0 L484.6 289.1 L485.0 290.4 L485.4 290.5 L485.8 291.3 L486.2 288.2 L486.6 289.8 L487.0 288.6 L487.4 289.3 L487.8 289.9 L488.2 290.2 L488.6 288.8 L489.0 289.4 L489.4 287.9 L489.8 287.7 L490.2 290.5 L490.6 290.0 L491.0 288.4 L491.4 289.0 L491.8 289.5 L492.2 291.1 L492.6 290.5 L493.0 290.3 L493.4 287.4 L493.8 289.0 L494.2 289.6 L494.6 289.7 L495.0 289.7 L495.4 289.1 L495.8 291.6 L496.2 291.3 L496.6 289.3 L497.0 288.4 L497.4 292.4 L497.8 289.1 L498.2 290.9 L498.6 292.0 L499.0 288.7 L499.4 290.2 L499.8 289.5 L500.2 290.8 L500.6 290.4 L501.0 292.0 L501.4 290.8 L501.8 290.1 L502.2 291.4 L502.6 290.0 L503.0 289.9 L503.4 293.1 L503.8 289.3 L504.2 289.6 L504.6 290.1 L505.0 288.6 L505.4 287.4 L505.8 291.1 L506.2 288.5 L506.6 288.9 L507.0 289.2 L507.4 288.1 L507.8 288.5 L508.2 290.2 L508.6 293.0 L509.0 291.2 L509.4 291.4 L509.8 288.8 L510.2 290.9 L510.6 289.3 L511.0 291.9 L511.4 290.6 L511.8 290.7 L512.2 290.6 L512.6 289.9 L513.0 289.2 L513.4 291.6 L513.8 288.9 L514.2 289.5 L514.6 290.6 L515.0 289.7 L515.4 291.2 L515.8 292.1 L516.2 291.2 L516.6 290.9 L517.0 291.1 L517.4 292.2 L517.8 288.9 L518.2 291.3 L518.6 290.0 L519.0 289.6 L519.4 291.0 L519.8 290.5 L520.2 291.3 L520.6 292.0 L521.0 288.3 L521.4 290.9 L521.8 293.6 L522.2 292.3 L522.6 293.1 L523.0 291.7 L523.4 289.9 L523.8 290.4 L524.2 292.3 L524.6 292.1 L525.0 290.3 L525.4 290.6 L525.8 291.4 L526.2 288.8 L526.6 290.6 L527.0 293.0 L527.4 293.9 L527.8 291.0 L528.2 293.6 L528.6 290.6 L529.0 290.5 L529.4 288.7 L529.8 292.7" fill="none" stroke="#ff0000" stroke-width="1.8" stroke-linejoin="round" stroke-linecap="butt"/>
<path d="M87.0 229.3 L87.4 228.5 L87.8 229.9 L88.2 228.7 L88.6 229.9 L89.0 229.8 L89.4 229.3 L89.8 230.6 L90.2 230.2 L90.6 230.5 L91.0 230.8 L91.4 230.7 L91.8 230.4 L92.2 231.0 L92.6 230.5 L93.0 231.0 L93.4 230.5 L93.8 229.9 L94.2 230.6 L94.6 230.9 L95.0 231.5 L95.4 232.3 L95.8 230.7 L96.2 232.0 L96.6 230.7 L97.0 231.6 L97.4 232.3 L97.8 231.2 L98.2 231.5 L98.6 232.7 L99.0 232.8 L99.4 232.6 L99.8 232.3 L100.2 234.1 L100.6 232.6 L101.0 232.2 L101.4 233.6 L101.8 232.9 L102.2 232.5 L102.6 233.4 L103.0 232.9 L103.4 233.3 L103.8 233.0 L104.2 232.5 L104.6 233.6 L105.0 233.3 L105.4 232.5 L105.8 232.5 L106.2 233.6 L106.6 232.8 L107.0 232.9 L107.4 233.4 L107.8 232.7 L108.2 231.6 L108.6 232.8 L109.0 233.2 L109.4 233.3 L109.8 233.8 L110.2 232.9 L110.6 233.3 L111.0 233.7 L111.4 232.8 L111.8 234.0 L112.2 234.3 L112.6 233.7 L113.0 234.4 L113.4 234.0 L113.8 233.0 L114.2 234.2 L114.6 233.8 L115.0 233.9 L115.4 234.0 L115.8 234.6 L116.2 234.0 L116.6 233.3 L117.0 234.0 L117.4 234.2 L117.8 233.5 L118.2 233.5 L118.6 233.5 L119.0 233.6 L119.4 234.1 L119.8 234.5 L120.2 235.1 L120.6 234.6 L121.0 234.4 L121.4 234.4 L121.8 234.6 L122.2 233.5 L122.6 234.0 L123.0 233.8 L123.4 233.6 L123.8 233.2 L124.2 233.1 L124.6 233.3 L125.0 232.7 L125.4 234.0 L125.8 233.7 L126.2 233.7 L126.6 233.8 L127.0 234.1 L127.4 233.5 L127.8 234.0 L128.2 233.0 L128.6 232.8 L129.0 232.8 L129.4 235.1 L129.8 233.1 L130.2 234.7 L130.6 235.5 L131.0 234.1 L131.4 235.4 L131.8 235.5 L132.2 234.9 L132.6 236.0 L133.0 235.2 L133.4 234.5 L133.8 235.2 L134.2 234.5 L134.6 234.1 L135.0 233.9 L135.4 236.2 L135.8 234.5 L136.2 234.6 L136.6 234.0 L137.0 234.6 L137.4 234.3 L137.8 234.2 L138.2 233.5 L138.6 233.5 L139.0 234.0 L139.4 234.7 L139.8 236.0 L140.2 235.2 L140.6 235.6 L141.0 234.9 L141.4 234.4 L141.8 233.8 L142.2 234.9 L142.6 233.7 L143.0 234.8 L143.4 235.9 L143.8 235.2 L144.2 236.0 L144.6 234.9 L145.0 234.3 L145.4 234.9 L145.8 235.0 L146.2 235.8 L146.6 236.3 L147.0 234.7 L147.4 235.0 L147.8 235.0 L148.2 235.0 L148.6 234.5 L149.0 235.4 L149.4 235.5 L149.8 235.5 L150.2 234.5 L150.6 235.1 L151.0 233.8 L151.4 235.3 L151.8 234.0 L152.2 234.4 L152.6 234.1 L153.0 234.0 L153.4 233.9 L153.8 233.5 L154.2 235.7 L154.6 234.9 L155.0 234.8 L155.4 235.9 L155.8 234.7 L156.2 235.3 L156.6 235.0 L157.0 235.6 L157.4 235.1 L157.8 235.1 L158.2 234.7 L158.6 235.1 L159.0 235.8 L159.4 233.6 L159.8 234.7 L160.2 234.5 L160.6 234.6 L161.0 233.6 L161.4 235.2 L161.8 234.1 L162.2 234.7 L162.6 234.5 L163.0 233.8 L163.4 234.5 L163.8 233.5 L164.2 234.0 L164.6 234.6 L165.0 234.8 L165.4 234.8 L165.8 234.7 L166.2 236.2 L166.6 235.2 L167.0 234.4 L167.4 234.9 L167.8 234.9 L168.2 235.2 L168.6 235.0 L169.0 234.9 L169.4 236.4 L169.8 235.3 L170.2 235.1 L170.6 235.2 L171.0 235.0 L171.4 236.0 L171.8 235.4 L172.2 235.9 L172.6 233.3 L173.0 235.5 L173.4 236.2 L173.8 236.8 L174.2 235.5 L174.6 234.6 L175.0 236.1 L175.4 235.4 L175.8 234.6 L176.2 235.3 L176.6 236.2 L177.0 236.2 L177.4 236.0 L177.8 235.1 L178.2 237.2 L178.6 234.8 L179.0 235.5 L179.4 234.6 L179.8 236.4 L180.2 235.9 L180.6 236.1 L181.0 235.7 L181.4 235.3 L181.8 235.7 L182.2 234.3 L182.6 236.2 L183.0 236.3 L183.4 235.6 L183.8 236.0 L184.2 236.3 L184.6 237.0 L185.0 236.3 L185.4 236.2 L185.8 236.2 L186.2 235.8 L186.6 236.4 L187.0 236.8 L187.4 237.3 L187.8 237.8 L188.2 238.8 L188.6 239.4 L189.0 239.9 L189.4 240.6 L189.8 240.8 L190.2 241.5 L190.6 242.5 L191.0 241.6 L191.4 244.2 L191.8 243.1 L192.2 244.7 L192.6 244.7 L193.0 246.1 L193.4 246.0 L193.8 245.8 L194.2 247.4 L194.6 247.3 L195.0 247.8 L195.4 248.5 L195.8 249.7 L196.2 250.0 L196.6 250.2 L197.0 249.0 L197.4 249.9 L197.8 250.6 L198.2 251.6 L198.6 251.0 L199.0 250.6 L199.4 251.4 L199.8 250.8 L200.2 250.8 L200.6 251.2 L201.0 250.2 L201.4 251.8 L201.8 251.8 L202.2 251.2 L202.6 250.9 L203.0 251.8 L203.4 252.4 L203.8 251.3 L204.2 251.0 L204.6 252.0 L205.0 250.8 L205.4 250.3 L205.8 251.3 L206.2 251.1 L206.6 251.5 L207.0 251.3 L207.4 251.9 L207.8 251.4 L208.2 251.1 L208.6 251.5 L209.0 252.2 L209.4 252.7 L209.8 252.7 L210.2 252.8 L210.6 250.5 L211.0 252.0 L211.4 252.7 L211.8 253.2 L212.2 251.9 L212.6 253.7 L213.0 252.6 L213.4 252.0 L213.8 252.4 L214.2 252.1 L214.6 251.7 L215.0 252.4 L215.4 252.0 L215.8 251.3 L216.2 251.9 L216.6 252.8 L217.0 252.4 L217.4 253.7 L217.8 252.4 L218.2 254.2 L218.6 253.5 L219.0 252.3 L219.4 253.0 L219.8 253.6 L220.2 252.7 L220.6 252.1 L221.0 253.1 L221.4 254.1 L221.8 251.9 L222.2 253.3 L222.6 253.0 L223.0 253.2 L223.4 252.9 L223.8 252.9 L224.2 253.7 L224.6 253.5 L225.0 252.6 L225.4 254.2 L225.8 252.4 L226.2 253.7 L226.6 253.2 L227.0 253.9 L227.4 253.5 L227.8 253.9 L228.2 253.2 L228.6 253.6 L229.0 253.1 L229.4 254.2 L229.8 252.3 L230.2 253.4 L230.6 253.1 L231.0 253.0 L231.4 252.4 L231.8 253.0 L232.2 252.3 L232.6 252.4 L233.0 253.8 L233.4 252.6 L233.8 254.5 L234.2 253.1 L234.6 253.5 L235.0 253.3 L235.4 253.6 L235.8 253.1 L236.2 253.1 L236.6 253.2 L237.0 253.9 L237.4 254.0 L237.8 254.3 L238.2 253.7 L238.6 253.5 L239.0 252.5 L239.4 253.9 L239.8 253.9 L240.2 253.1 L240.6 253.7 L241.0 254.1 L241.4 253.3 L241.8 253.9 L242.2 253.4 L242.6 252.2 L243.0 253.0 L243.4 253.1 L243.8 253.7 L244.2 253.1 L244.6 253.2 L245.0 253.0 L245.4 253.4 L245.8 253.4 L246.2 254.0 L246.6 253.9 L247.0 253.5 L247.4 253.7 L247.8 253.4 L248.2 253.5 L248.6 254.1 L249.0 251.7 L249.4 253.2 L249.8 253.5 L250.2 254.1 L250.6 252.7 L251.0 253.8 L251.4 254.1 L251.8 253.1 L252.2 252.2 L252.6 253.4 L253.0 252.9 L253.4 254.0 L253.8 252.9 L254.2 254.5 L254.6 253.5 L255.0 253.0 L255.4 253.6 L255.8 253.4 L256.2 254.0 L256.6 254.8 L257.0 253.7 L257.4 254.5 L257.8 253.6 L258.2 254.3 L258.6 255.6 L259.0 253.2 L259.4 254.8 L259.8 255.0 L260.2 253.0 L260.6 253.4 L261.0 253.8 L261.4 254.9 L261.8 254.2 L262.2 254.3 L262.6 254.8 L263.0 254.6 L263.4 254.6 L263.8 254.4 L264.2 255.1 L264.6 253.9 L265.0 255.4 L265.4 254.1 L265.8 253.7 L266.2 254.6 L266.6 254.5 L267.0 252.9 L267.4 254.3 L267.8 253.6 L268.2 253.9 L268.6 254.8 L269.0 253.8 L269.4 254.7 L269.8 254.3 L270.2 255.8 L270.6 254.7 L271.0 254.0 L271.4 253.9 L271.8 254.0 L272.2 254.8 L272.6 254.7 L273.0 255.3 L273.4 254.8 L273.8 254.7 L274.2 254.8 L274.6 254.5 L275.0 254.7 L275.4 255.0 L275.8 254.9 L276.2 254.1 L276.6 253.3 L277.0 253.8 L277.4 254.5 L277.8 252.8 L278.2 254.1 L278.6 254.7 L279.0 254.1 L279.4 253.8 L279.8 255.7 L280.2 255.5 L280.6 254.5 L281.0 255.6 L281.4 255.5 L281.8 254.0 L282.2 256.6 L282.6 254.4 L283.0 255.0 L283.4 254.5 L283.8 255.2 L284.2 254.5 L284.6 255.4 L285.0 256.2 L285.4 255.6 L285.8 255.2 L286.2 256.4 L286.6 254.8 L287.0 256.1 L287.4 255.4 L287.8 255.6 L288.2 255.4 L288.6 255.5 L289.0 255.6 L289.4 255.1 L289.8 255.3 L290.2 256.2 L290.6 255.5 L291.0 254.8 L291.4 255.0 L291.8 255.0 L292.2 255.5 L292.6 255.6 L293.0 255.4 L293.4 254.8 L293.8 255.2 L294.2 254.4 L294.6 253.5 L295.0 255.4 L295.4 254.3 L295.8 254.7 L296.2 254.5 L296.6 255.8 L297.0 254.6 L297.4 255.4 L297.8 254.9 L298.2 254.5 L298.6 254.3 L299.0 255.9 L299.4 256.1 L299.8 256.6 L300.2 257.4 L300.6 256.9 L301.0 257.6 L301.4 257.7 L301.8 258.4 L302.2 258.7 L302.6 258.7 L303.0 260.7 L303.4 258.6 L303.8 260.3 L304.2 260.9 L304.6 260.9 L305.0 260.7 L305.4 261.4 L305.8 261.5 L306.2 261.5 L306.6 262.5 L307.0 262.8 L307.4 263.0 L307.8 264.2 L308.2 263.6 L308.6 264.8 L309.0 264.6 L309.4 265.9 L309.8 266.0 L310.2 266.7 L310.6 266.1 L311.0 266.9 L311.4 267.3 L311.8 268.4 L312.2 269.3 L312.6 269.6 L313.0 268.7 L313.4 269.4 L313.8 268.2 L314.2 268.1 L314.6 269.1 L315.0 269.2 L315.4 268.8 L315.8 268.7 L316.2 270.4 L316.6 269.3 L317.0 268.8 L317.4 271.8 L317.8 270.4 L318.2 270.2 L318.6 270.9 L319.0 269.9 L319.4 271.4 L319.8 269.0 L320.2 269.2 L320.6 269.9 L321.0 269.5 L321.4 271.0 L321.8 268.9 L322.2 269.7 L322.6 270.4 L323.0 270.9 L323.4 271.6 L323.8 271.2 L324.2 272.7 L324.6 270.6 L325.0 271.3 L325.4 271.8 L325.8 270.9 L326.2 270.6 L326.6 270.3 L327.0 269.9 L327.4 269.6 L327.8 269.8 L328.2 269.1 L328.6 270.4 L329.0 269.0 L329.4 271.7 L329.8 271.5 L330.2 271.2 L330.6 270.4 L331.0 270.2 L331.4 271.7 L331.8 271.2 L332.2 271.5 L332.6 270.5 L333.0 272.2 L333.4 271.1 L333.8 271.8 L334.2 270.5 L334.6 271.5 L335.0 272.1 L335.4 271.4 L335.8 271.4 L336.2 272.2 L336.6 271.4 L337.0 272.0 L337.4 269.4 L337.8 271.3 L338.2 271.4 L338.6 270.2 L339.0 270.5 L339.4 272.1 L339.8 270.9 L340.2 271.4 L340.6 272.6 L341.0 272.1 L341.4 272.8 L341.8 271.7 L342.2 272.3 L342.6 272.6 L343.0 272.0 L343.4 270.1 L343.8 272.2 L344.2 271.5 L344.6 270.9 L345.0 272.9 L345.4 270.5 L345.8 273.2 L346.2 271.5 L346.6 273.3 L347.0 272.1 L347.4 271.0 L347.8 272.2 L348.2 272.0 L348.6 272.0 L349.0 272.6 L349.4 271.3 L349.8 272.4 L350.2 272.6 L350.6 272.0 L351.0 271.7 L351.4 271.5 L351.8 273.0 L352.2 273.0 L352.6 271.9 L353.0 271.7 L353.4 273.5 L353.8 271.4 L354.2 272.5 L354.6 271.8 L355.0 271.4 L355.4 272.8 L355.8 272.6 L356.2 273.6 L356.6 274.1 L357.0 272.4 L357.4 273.3 L357.8 273.5 L358.2 272.6 L358.6 272.2 L359.0 274.1 L359.4 272.9 L359.8 273.2 L360.2 273.0 L360.6 273.1 L361.0 272.7 L361.4 273.7 L361.8 273.8 L362.2 272.7 L362.6 271.9 L363.0 272.8 L363.4 271.8 L363.8 272.0 L364.2 273.4 L364.6 274.1 L365.0 272.8 L365.4 271.8 L365.8 273.1 L366.2 271.1 L366.6 272.0 L367.0 273.5 L367.4 273.3 L367.8 271.6 L368.2 271.7 L368.6 273.5 L369.0 272.9 L369.4 272.5 L369.8 273.4 L370.2 272.9 L370.6 271.7 L371.0 273.6 L371.4 272.7 L371.8 272.4 L372.2 272.2 L372.6 273.3 L373.0 272.7 L373.4 273.3 L373.8 272.6 L374.2 273.7 L374.6 272.7 L375.0 272.7 L375.4 271.9 L375.8 272.5 L376.2 273.9 L376.6 275.6 L377.0 272.8 L377.4 273.1 L377.8 274.2 L378.2 274.4 L378.6 273.4 L379.0 274.0 L379.4 272.8 L379.8 273.8 L380.2 274.7 L380.6 275.1 L381.0 274.0 L381.4 273.9 L381.8 274.4 L382.2 275.3 L382.6 274.7 L383.0 273.8 L383.4 274.8 L383.8 275.2 L384.2 274.0 L384.6 273.5 L385.0 274.9 L385.4 275.0 L385.8 275.1 L386.2 274.7 L386.6 274.1 L387.0 274.2 L387.4 273.7 L387.8 273.6 L388.2 274.0 L388.6 274.2 L389.0 275.4 L389.4 273.9 L389.8 274.6 L390.2 274.4 L390.6 275.9 L391.0 275.1 L391.4 275.0 L391.8 275.6 L392.2 275.0 L392.6 274.5 L393.0 275.8 L393.4 275.3 L393.8 275.9 L394.2 275.5 L394.6 275.4 L395.0 274.9 L395.4 274.0 L395.8 275.2 L396.2 274.7 L396.6 275.0 L397.0 274.5 L397.4 274.0 L397.8 273.9 L398.2 274.8 L398.6 275.1 L399.0 274.2 L399.4 274.7 L399.8 275.3 L400.2 274.0 L400.6 274.6 L401.0 273.9 L401.4 275.4 L401.8 275.0 L402.2 274.4 L402.6 273.5 L403.0 274.7 L403.4 275.7 L403.8 274.3 L404.2 273.9 L404.6 274.7 L405.0 273.6 L405.4 274.5 L405.8 274.8 L406.2 273.9 L406.6 274.0 L407.0 274.7 L407.4 274.7 L407.8 274.9 L408.2 275.5 L408.6 275.4 L409.0 274.7 L409.4 275.1 L409.8 275.8 L410.2 276.1 L410.6 276.3 L411.0 274.8 L411.4 276.1 L411.8 275.9 L412.2 275.3 L412.6 275.8 L413.0 275.9 L413.4 276.7 L413.8 274.6 L414.2 275.8 L414.6 275.4 L415.0 275.7 L415.4 277.0 L415.8 276.8 L416.2 275.4 L416.6 276.5 L417.0 277.1 L417.4 276.4 L417.8 278.4 L418.2 277.9 L418.6 278.2 L419.0 278.5 L419.4 280.1 L419.8 279.3 L420.2 279.5 L420.6 281.5 L421.0 279.8 L421.4 280.1 L421.8 279.9 L422.2 282.4 L422.6 282.0 L423.0 282.6 L423.4 282.6 L423.8 282.6 L424.2 282.5 L424.6 282.7 L425.0 284.2 L425.4 284.1 L425.8 285.3 L426.2 283.7 L426.6 284.2 L427.0 284.3 L427.4 286.2 L427.8 284.0 L428.2 285.7 L428.6 286.6 L429.0 285.5 L429.4 286.5 L429.8 284.1 L430.2 285.7 L430.6 284.1 L431.0 285.9 L431.4 285.8 L431.8 285.3 L432.2 286.7 L432.6 286.4 L433.0 286.0 L433.4 286.2 L433.8 285.2 L434.2 286.5 L434.6 288.7 L435.0 286.0 L435.4 287.0 L435.8 286.0 L436.2 287.2 L436.6 286.9 L437.0 286.1 L437.4 284.9 L437.8 286.1 L438.2 287.5 L438.6 286.4 L439.0 287.3 L439.4 286.7 L439.8 285.1 L440.2 287.0 L440.6 287.0 L441.0 286.1 L441.4 286.5 L441.8 287.1 L442.2 285.9 L442.6 287.0 L443.0 286.1 L443.4 284.3 L443.8 286.3 L444.2 285.5 L444.6 285.3 L445.0 286.5 L445.4 285.8 L445.8 286.9 L446.2 287.5 L446.6 286.6 L447.0 284.8 L447.4 285.7 L447.8 287.5 L448.2 286.5 L448.6 285.8 L449.0 286.6 L449.4 287.4 L449.8 286.9 L450.2 287.3 L450.6 285.9 L451.0 286.5 L451.4 286.6 L451.8 286.5 L452.2 284.7 L452.6 286.5 L453.0 285.4 L453.4 288.0 L453.8 288.4 L454.2 288.5 L454.6 287.8 L455.0 286.6 L455.4 288.3 L455.8 287.1 L456.2 288.0 L456.6 286.3 L457.0 286.7 L457.4 287.7 L457.8 288.8 L458.2 287.2 L458.6 289.2 L459.0 289.6 L459.4 285.8 L459.8 286.7 L460.2 286.2 L460.6 287.1 L461.0 286.6 L461.4 287.6 L461.8 288.5 L462.2 288.5 L462.6 288.0 L463.0 288.0 L463.4 288.4 L463.8 288.6 L464.2 288.9 L464.6 288.6 L465.0 288.9 L465.4 287.3 L465.8 289.4 L466.2 289.8 L466.6 288.1 L467.0 286.7 L467.4 288.8 L467.8 287.3 L468.2 284.7 L468.6 287.2 L469.0 288.3 L469.4 287.8 L469.8 289.0 L470.2 288.7 L470.6 287.8 L471.0 286.1 L471.4 287.2 L471.8 288.6 L472.2 289.1 L472.6 286.9 L473.0 287.5 L473.4 288.6 L473.8 286.2 L474.2 286.4 L474.6 288.4 L475.0 288.6 L475.4 287.6 L475.8 285.9 L476.2 288.4 L476.6 287.1 L477.0 288.9 L477.4 288.4 L477.8 288.8 L478.2 288.5 L478.6 287.5 L479.0 288.9 L479.4 289.2 L479.8 288.7 L480.2 289.7 L480.6 287.8 L481.0 289.2 L481.4 288.8 L481.8 288.0 L482.2 288.9 L482.6 288.6 L483.0 288.5 L483.4 288.8 L483.8 289.7 L484.2 288.6 L484.6 289.0 L485.0 287.3 L485.4 288.6 L485.8 289.5 L486.2 289.1 L486.6 289.0 L487.0 288.3 L487.4 287.9 L487.8 288.5 L488.2 287.2 L488.6 287.5 L489.0 289.7 L489.4 288.1 L489.8 290.6 L490.2 287.3 L490.6 289.1 L491.0 287.6 L491.4 288.9 L491.8 288.0 L492.2 288.9 L492.6 288.5 L493.0 288.1 L493.4 289.1 L493.8 290.0 L494.2 288.2 L494.6 289.5 L495.0 288.8 L495.4 288.8 L495.8 291.0 L496.2 286.8 L496.6 288.7 L497.0 287.4 L497.4 289.1 L497.8 289.1 L498.2 292.6 L498.6 289.7 L499.0 290.8 L499.4 290.2 L499.8 288.5 L500.2 289.1 L500.6 290.3 L501.0 288.7 L501.4 288.5 L501.8 288.9 L502.2 287.1 L502.6 287.6 L503.0 288.6 L503.4 288.9 L503.8 287.5 L504.2 288.4 L504.6 288.8 L505.0 288.8 L505.4 289.7 L505.8 289.0 L506.2 289.4 L506.6 288.1 L507.0 288.4 L507.4 289.4 L507.8 287.8 L508.2 289.6 L508.6 288.8 L509.0 288.8 L509.4 290.1 L509.8 288.6 L510.2 288.3 L510.6 288.5 L511.0 289.5 L511.4 291.5 L511.8 286.7 L512.2 288.8 L512.6 288.5 L513.0 289.7 L513.4 288.3 L513.8 286.3 L514.2 289.9 L514.6 287.6 L515.0 288.5 L515.4 287.4 L515.8 287.5 L516.2 288.2 L516.6 289.4 L517.0 289.8 L517.4 288.5 L517.8 289.3 L518.2 288.7 L518.6 289.3 L519.0 289.4 L519.4 289.9 L519.8 288.6 L520.2 289.3 L520.6 289.7 L521.0 289.8 L521.4 289.3 L521.8 291.8 L522.2 289.9 L522.6 291.1 L523.0 290.7 L523.4 291.7 L523.8 288.4 L524.2 292.6 L524.6 290.4 L525.0 289.2 L525.4 290.4 L525.8 292.3 L526.2 290.6 L526.6 288.8 L527.0 289.2 L527.4 290.9 L527.8 287.8 L528.2 289.0 L528.6 289.0 L529.0 291.5 L529.4 289.4 L529.8 291.0" fill="none" stroke="#0000ff" stroke-width="2.5" stroke-linejoin="round" stroke-linecap="butt"/>
<path d="M87.0 250.7 L87.4 249.7 L87.8 251.6 L88.2 250.5 L88.6 250.8 L89.0 250.5 L89.4 251.5 L89.8 250.2 L90.2 251.1 L90.6 251.4 L91.0 251.7 L91.4 251.6 L91.8 251.2 L92.2 250.1 L92.6 251.5 L93.0 251.3 L93.4 251.1 L93.8 251.2 L94.2 250.7 L94.6 250.2 L95.0 251.1 L95.4 251.3 L95.8 250.0 L96.2 251.2 L96.6 250.8 L97.0 251.2 L97.4 250.7 L97.8 251.2 L98.2 251.3 L98.6 251.2 L99.0 249.7 L99.4 251.1 L99.8 250.7 L100.2 249.9 L100.6 251.0 L101.0 249.8 L101.4 251.3 L101.8 251.9 L102.2 250.3 L102.6 251.2 L103.0 250.9 L103.4 251.0 L103.8 249.8 L104.2 251.1 L104.6 250.9 L105.0 251.1 L105.4 250.7 L105.8 251.4 L106.2 251.1 L106.6 251.4 L107.0 251.7 L107.4 250.9 L107.8 251.4 L108.2 250.8 L108.6 251.0 L109.0 250.2 L109.4 251.0 L109.8 251.3 L110.2 250.4 L110.6 251.0 L111.0 250.6 L111.4 249.9 L111.8 250.9 L112.2 251.6 L112.6 250.5 L113.0 249.7 L113.4 250.9 L113.8 250.2 L114.2 252.0 L114.6 250.9 L115.0 250.8 L115.4 250.2 L115.8 250.6 L116.2 250.1 L116.6 250.0 L117.0 250.5 L117.4 250.1 L117.8 251.2 L118.2 249.7 L118.6 250.5 L119.0 250.2 L119.4 249.8 L119.8 251.7 L120.2 249.5 L120.6 251.7 L121.0 249.9 L121.4 250.8 L121.8 252.1 L122.2 249.3 L122.6 249.7 L123.0 251.4 L123.4 250.8 L123.8 250.4 L124.2 250.8 L124.6 250.3 L125.0 251.0 L125.4 251.7 L125.8 250.7 L126.2 251.0 L126.6 251.6 L127.0 251.8 L127.4 250.1 L127.8 250.5 L128.2 249.8 L128.6 249.8 L129.0 250.0 L129.4 249.7 L129.8 249.1 L130.2 248.9 L130.6 250.0 L131.0 250.5 L131.4 251.2 L131.8 250.1 L132.2 250.3 L132.6 250.8 L133.0 250.9 L133.4 250.3 L133.8 250.4 L134.2 251.6 L134.6 250.3 L135.0 250.2 L135.4 249.6 L135.8 251.1 L136.2 250.8 L136.6 252.2 L137.0 251.0 L137.4 251.6 L137.8 251.5 L138.2 252.0 L138.6 250.2 L139.0 251.9 L139.4 250.7 L139.8 250.5 L140.2 250.4 L140.6 250.0 L141.0 250.2 L141.4 249.1 L141.8 250.7 L142.2 250.5 L142.6 249.8 L143.0 250.5 L143.4 251.8 L143.8 250.4 L144.2 250.1 L144.6 251.6 L145.0 249.9 L145.4 250.2 L145.8 250.0 L146.2 250.4 L146.6 251.0 L147.0 250.9 L147.4 250.1 L147.8 250.4 L148.2 250.4 L148.6 250.2 L149.0 250.6 L149.4 250.0 L149.8 249.9 L150.2 250.2 L150.6 249.7 L151.0 250.8 L151.4 250.4 L151.8 249.8 L152.2 250.1 L152.6 250.1 L153.0 250.7 L153.4 250.9 L153.8 250.9 L154.2 250.3 L154.6 251.6 L155.0 251.2 L155.4 250.8 L155.8 251.1 L156.2 250.6 L156.6 250.0 L157.0 250.2 L157.4 251.6 L157.8 250.7 L158.2 250.8 L158.6 250.1 L159.0 250.8 L159.4 251.9 L159.8 250.8 L160.2 251.2 L160.6 251.4 L161.0 250.9 L161.4 251.6 L161.8 250.9 L162.2 251.0 L162.6 250.3 L163.0 252.1 L163.4 250.6 L163.8 250.5 L164.2 251.3 L164.6 250.2 L165.0 250.4 L165.4 249.9 L165.8 250.2 L166.2 250.1 L166.6 250.9 L167.0 250.4 L167.4 250.1 L167.8 250.1 L168.2 250.2 L168.6 249.8 L169.0 250.4 L169.4 250.3 L169.8 249.9 L170.2 249.0 L170.6 250.0 L171.0 248.9 L171.4 249.8 L171.8 249.7 L172.2 249.3 L172.6 249.3 L173.0 249.4 L173.4 251.0 L173.8 249.5 L174.2 249.7 L174.6 250.6 L175.0 250.2 L175.4 250.8 L175.8 249.8 L176.2 249.8 L176.6 252.6 L177.0 250.4 L177.4 250.4 L177.8 250.6 L178.2 250.7 L178.6 249.6 L179.0 250.5 L179.4 250.2 L179.8 250.7 L180.2 250.3 L180.6 250.0 L181.0 249.7 L181.4 248.7 L181.8 251.0 L182.2 249.4 L182.6 249.9 L183.0 251.1 L183.4 249.8 L183.8 250.6 L184.2 250.4 L184.6 250.8 L185.0 250.4 L185.4 249.9 L185.8 250.9 L186.2 250.0 L186.6 249.3 L187.0 250.0 L187.4 250.6 L187.8 249.7 L188.2 251.4 L188.6 252.0 L189.0 253.6 L189.4 252.7 L189.8 254.1 L190.2 253.5 L190.6 254.9 L191.0 255.8 L191.4 256.5 L191.8 257.0 L192.2 257.7 L192.6 257.8 L193.0 258.6 L193.4 259.5 L193.8 260.3 L194.2 261.0 L194.6 261.8 L195.0 262.4 L195.4 261.1 L195.8 262.4 L196.2 263.3 L196.6 263.4 L197.0 264.6 L197.4 264.5 L197.8 264.1 L198.2 264.3 L198.6 265.3 L199.0 264.4 L199.4 264.3 L199.8 265.2 L200.2 265.1 L200.6 266.0 L201.0 265.5 L201.4 265.9 L201.8 265.4 L202.2 265.3 L202.6 266.1 L203.0 264.9 L203.4 266.7 L203.8 267.2 L204.2 266.7 L204.6 266.6 L205.0 267.3 L205.4 266.3 L205.8 267.0 L206.2 267.6 L206.6 266.6 L207.0 266.9 L207.4 266.6 L207.8 266.4 L208.2 266.5 L208.6 266.5 L209.0 267.2 L209.4 265.5 L209.8 266.4 L210.2 267.1 L210.6 266.4 L211.0 266.6 L211.4 266.3 L211.8 267.0 L212.2 267.4 L212.6 268.0 L213.0 267.4 L213.4 266.7 L213.8 267.1 L214.2 267.3 L214.6 267.9 L215.0 265.9 L215.4 267.4 L215.8 266.1 L216.2 267.2 L216.6 267.1 L217.0 267.3 L217.4 267.5 L217.8 267.1 L218.2 266.6 L218.6 267.2 L219.0 267.6 L219.4 266.8 L219.8 267.1 L220.2 266.4 L220.6 267.8 L221.0 267.0 L221.4 266.9 L221.8 267.2 L222.2 266.7 L222.6 267.2 L223.0 268.0 L223.4 267.9 L223.8 268.3 L224.2 268.4 L224.6 267.1 L225.0 267.9 L225.4 268.4 L225.8 269.0 L226.2 266.8 L226.6 266.6 L227.0 267.7 L227.4 267.2 L227.8 266.6 L228.2 267.3 L228.6 266.5 L229.0 265.8 L229.4 267.2 L229.8 267.4 L230.2 267.8 L230.6 267.9 L231.0 267.5 L231.4 267.2 L231.8 267.0 L232.2 266.5 L232.6 267.1 L233.0 267.9 L233.4 267.6 L233.8 268.7 L234.2 267.5 L234.6 266.5 L235.0 268.3 L235.4 268.2 L235.8 267.0 L236.2 266.7 L236.6 267.6 L237.0 268.1 L237.4 266.8 L237.8 267.2 L238.2 267.0 L238.6 266.6 L239.0 266.8 L239.4 267.6 L239.8 267.3 L240.2 267.3 L240.6 265.9 L241.0 268.5 L241.4 267.1 L241.8 267.6 L242.2 267.0 L242.6 267.7 L243.0 266.6 L243.4 267.6 L243.8 267.5 L244.2 268.4 L244.6 267.3 L245.0 267.4 L245.4 267.6 L245.8 269.1 L246.2 266.9 L246.6 268.0 L247.0 267.5 L247.4 268.0 L247.8 268.0 L248.2 267.6 L248.6 267.6 L249.0 267.6 L249.4 267.0 L249.8 267.4 L250.2 266.5 L250.6 267.4 L251.0 267.2 L251.4 267.6 L251.8 268.1 L252.2 268.0 L252.6 268.1 L253.0 268.6 L253.4 266.6 L253.8 268.4 L254.2 268.1 L254.6 268.1 L255.0 267.4 L255.4 268.6 L255.8 268.9 L256.2 269.0 L256.6 268.1 L257.0 268.6 L257.4 268.7 L257.8 269.2 L258.2 269.1 L258.6 268.4 L259.0 268.4 L259.4 268.5 L259.8 268.4 L260.2 268.1 L260.6 268.7 L261.0 267.9 L261.4 267.8 L261.8 268.3 L262.2 267.7 L262.6 268.0 L263.0 266.9 L263.4 268.6 L263.8 268.3 L264.2 268.2 L264.6 268.6 L265.0 268.6 L265.4 268.1 L265.8 269.7 L266.2 268.2 L266.6 269.1 L267.0 269.6 L267.4 268.1 L267.8 268.5 L268.2 267.9 L268.6 268.9 L269.0 268.3 L269.4 267.7 L269.8 269.1 L270.2 268.8 L270.6 267.9 L271.0 269.1 L271.4 268.7 L271.8 270.0 L272.2 269.2 L272.6 268.0 L273.0 268.3 L273.4 267.9 L273.8 268.5 L274.2 268.4 L274.6 269.0 L275.0 268.6 L275.4 268.0 L275.8 268.6 L276.2 269.9 L276.6 269.7 L277.0 269.0 L277.4 269.2 L277.8 269.2 L278.2 269.4 L278.6 268.3 L279.0 269.8 L279.4 268.8 L279.8 269.3 L280.2 267.4 L280.6 269.0 L281.0 269.6 L281.4 267.4 L281.8 269.6 L282.2 268.9 L282.6 268.2 L283.0 267.9 L283.4 269.5 L283.8 269.2 L284.2 269.6 L284.6 269.1 L285.0 268.9 L285.4 269.8 L285.8 268.8 L286.2 269.9 L286.6 268.4 L287.0 268.8 L287.4 268.5 L287.8 270.1 L288.2 268.3 L288.6 268.5 L289.0 269.6 L289.4 269.5 L289.8 270.5 L290.2 270.3 L290.6 269.8 L291.0 269.8 L291.4 268.3 L291.8 268.8 L292.2 269.2 L292.6 269.4 L293.0 268.5 L293.4 268.6 L293.8 268.7 L294.2 269.7 L294.6 269.4 L295.0 269.0 L295.4 269.1 L295.8 269.6 L296.2 269.1 L296.6 269.4 L297.0 268.8 L297.4 270.0 L297.8 270.2 L298.2 270.0 L298.6 270.1 L299.0 270.4 L299.4 271.4 L299.8 270.5 L300.2 270.0 L300.6 270.5 L301.0 271.9 L301.4 272.4 L301.8 272.4 L302.2 272.7 L302.6 272.5 L303.0 272.0 L303.4 272.7 L303.8 272.4 L304.2 273.5 L304.6 273.4 L305.0 274.7 L305.4 274.9 L305.8 274.3 L306.2 276.6 L306.6 276.9 L307.0 275.9 L307.4 277.3 L307.8 278.2 L308.2 277.9 L308.6 278.9 L309.0 279.0 L309.4 279.9 L309.8 279.6 L310.2 279.7 L310.6 280.7 L311.0 281.3 L311.4 281.4 L311.8 281.2 L312.2 281.1 L312.6 281.4 L313.0 281.4 L313.4 282.1 L313.8 282.3 L314.2 282.2 L314.6 282.4 L315.0 282.5 L315.4 283.5 L315.8 283.5 L316.2 282.5 L316.6 283.3 L317.0 282.8 L317.4 283.1 L317.8 282.9 L318.2 282.7 L318.6 282.4 L319.0 281.8 L319.4 283.8 L319.8 284.5 L320.2 283.2 L320.6 284.0 L321.0 283.6 L321.4 284.5 L321.8 283.8 L322.2 284.2 L322.6 284.3 L323.0 282.8 L323.4 284.6 L323.8 284.5 L324.2 283.1 L324.6 285.1 L325.0 284.5 L325.4 284.7 L325.8 284.8 L326.2 284.0 L326.6 283.5 L327.0 283.7 L327.4 284.0 L327.8 285.9 L328.2 285.8 L328.6 284.2 L329.0 284.1 L329.4 284.6 L329.8 285.1 L330.2 284.1 L330.6 284.2 L331.0 286.2 L331.4 285.6 L331.8 283.6 L332.2 283.3 L332.6 284.1 L333.0 284.8 L333.4 285.1 L333.8 284.8 L334.2 284.0 L334.6 285.3 L335.0 285.7 L335.4 285.5 L335.8 285.4 L336.2 286.2 L336.6 286.0 L337.0 285.2 L337.4 285.9 L337.8 284.7 L338.2 286.2 L338.6 285.7 L339.0 284.7 L339.4 285.5 L339.8 286.4 L340.2 284.1 L340.6 285.4 L341.0 286.8 L341.4 284.6 L341.8 285.8 L342.2 285.0 L342.6 285.9 L343.0 284.4 L343.4 284.8 L343.8 285.5 L344.2 286.1 L344.6 286.2 L345.0 286.3 L345.4 286.6 L345.8 286.3 L346.2 286.3 L346.6 285.1 L347.0 285.8 L347.4 288.2 L347.8 287.5 L348.2 286.8 L348.6 286.7 L349.0 287.0 L349.4 286.0 L349.8 287.9 L350.2 286.2 L350.6 286.5 L351.0 287.9 L351.4 285.0 L351.8 286.4 L352.2 285.1 L352.6 285.8 L353.0 286.2 L353.4 286.0 L353.8 286.3 L354.2 285.5 L354.6 286.1 L355.0 285.2 L355.4 285.9 L355.8 285.1 L356.2 286.5 L356.6 285.2 L357.0 286.7 L357.4 286.0 L357.8 286.2 L358.2 287.2 L358.6 286.8 L359.0 285.3 L359.4 287.0 L359.8 284.6 L360.2 286.8 L360.6 286.3 L361.0 285.8 L361.4 286.9 L361.8 286.7 L362.2 288.3 L362.6 286.5 L363.0 288.3 L363.4 288.2 L363.8 286.7 L364.2 286.5 L364.6 288.0 L365.0 287.0 L365.4 287.3 L365.8 287.2 L366.2 286.7 L366.6 287.2 L367.0 286.7 L367.4 286.5 L367.8 287.4 L368.2 288.9 L368.6 288.7 L369.0 287.4 L369.4 287.6 L369.8 287.9 L370.2 288.6 L370.6 287.7 L371.0 287.3 L371.4 287.5 L371.8 288.5 L372.2 289.6 L372.6 287.3 L373.0 286.1 L373.4 288.1 L373.8 287.4 L374.2 287.7 L374.6 288.4 L375.0 287.3 L375.4 286.4 L375.8 286.0 L376.2 287.2 L376.6 286.6 L377.0 287.6 L377.4 286.6 L377.8 287.4 L378.2 286.6 L378.6 287.5 L379.0 287.3 L379.4 288.0 L379.8 288.6 L380.2 287.6 L380.6 287.3 L381.0 289.1 L381.4 288.1 L381.8 288.4 L382.2 288.4 L382.6 289.2 L383.0 289.1 L383.4 288.9 L383.8 288.8 L384.2 287.6 L384.6 287.8 L385.0 288.1 L385.4 288.3 L385.8 288.2 L386.2 288.3 L386.6 288.1 L387.0 287.9 L387.4 287.2 L387.8 288.9 L388.2 288.9 L388.6 287.8 L389.0 288.9 L389.4 289.1 L389.8 288.8 L390.2 287.5 L390.6 287.8 L391.0 288.1 L391.4 290.0 L391.8 288.3 L392.2 288.5 L392.6 288.0 L393.0 288.2 L393.4 289.1 L393.8 287.4 L394.2 286.9 L394.6 289.6 L395.0 289.0 L395.4 288.4 L395.8 289.7 L396.2 289.7 L396.6 287.6 L397.0 288.8 L397.4 289.8 L397.8 288.5 L398.2 288.7 L398.6 289.7 L399.0 288.7 L399.4 288.1 L399.8 288.4 L400.2 287.9 L400.6 289.4 L401.0 287.8 L401.4 289.8 L401.8 287.8 L402.2 289.0 L402.6 288.0 L403.0 288.9 L403.4 289.9 L403.8 290.0 L404.2 290.3 L404.6 289.5 L405.0 289.6 L405.4 289.9 L405.8 290.1 L406.2 289.5 L406.6 290.8 L407.0 290.3 L407.4 290.8 L407.8 290.3 L408.2 290.3 L408.6 289.3 L409.0 289.5 L409.4 288.7 L409.8 289.3 L410.2 289.3 L410.6 290.1 L411.0 288.4 L411.4 291.7 L411.8 289.0 L412.2 290.3 L412.6 290.2 L413.0 287.7 L413.4 289.6 L413.8 290.7 L414.2 287.8 L414.6 290.5 L415.0 289.1 L415.4 289.7 L415.8 290.1 L416.2 289.0 L416.6 291.0 L417.0 290.6 L417.4 291.0 L417.8 292.9 L418.2 295.8 L418.6 293.8 L419.0 294.1 L419.4 293.8 L419.8 293.1 L420.2 293.9 L420.6 295.0 L421.0 294.3 L421.4 294.7 L421.8 293.4 L422.2 296.0 L422.6 292.6 L423.0 294.3 L423.4 294.2 L423.8 293.9 L424.2 292.8 L424.6 292.7 L425.0 293.4 L425.4 293.9 L425.8 292.4 L426.2 292.5 L426.6 294.0 L427.0 294.8 L427.4 293.4 L427.8 293.4 L428.2 293.3 L428.6 296.0 L429.0 294.5 L429.4 294.2 L429.8 294.9 L430.2 296.0 L430.6 294.9 L431.0 292.6 L431.4 293.9 L431.8 293.7 L432.2 293.8 L432.6 293.1 L433.0 294.0 L433.4 293.6 L433.8 295.0 L434.2 294.9 L434.6 293.9 L435.0 293.4 L435.4 294.4 L435.8 295.5 L436.2 295.1 L436.6 294.2 L437.0 291.3 L437.4 293.9 L437.8 293.5 L438.2 293.8 L438.6 293.1 L439.0 293.9 L439.4 293.7 L439.8 297.0 L440.2 295.3 L440.6 294.4 L441.0 294.6 L441.4 294.7 L441.8 294.7 L442.2 294.3 L442.6 294.5 L443.0 295.4 L443.4 295.2 L443.8 295.0 L444.2 296.0 L444.6 295.0 L445.0 293.9 L445.4 293.5 L445.8 294.6 L446.2 295.4 L446.6 295.6 L447.0 296.4 L447.4 294.6 L447.8 294.2 L448.2 295.7 L448.6 295.6 L449.0 294.1 L449.4 294.6 L449.8 295.6 L450.2 294.9 L450.6 294.4 L451.0 292.6 L451.4 296.1 L451.8 295.5 L452.2 295.1 L452.6 294.3 L453.0 293.5 L453.4 294.9 L453.8 294.8 L454.2 296.1 L454.6 293.7 L455.0 296.2 L455.4 295.1 L455.8 296.2 L456.2 294.2 L456.6 295.5 L457.0 296.2 L457.4 295.2 L457.8 294.1 L458.2 295.3 L458.6 296.0 L459.0 293.9 L459.4 294.2 L459.8 295.7 L460.2 294.9 L460.6 296.4 L461.0 294.6 L461.4 293.6 L461.8 294.7 L462.2 297.2 L462.6 295.0 L463.0 295.8 L463.4 296.5 L463.8 295.2 L464.2 297.1 L464.6 296.2 L465.0 296.6 L465.4 294.4 L465.8 294.1 L466.2 293.1 L466.6 295.3 L467.0 294.8 L467.4 295.7 L467.8 296.6 L468.2 295.0 L468.6 294.9 L469.0 295.7 L469.4 296.9 L469.8 294.7 L470.2 296.2 L470.6 295.7 L471.0 295.8 L471.4 296.7 L471.8 295.3 L472.2 295.2 L472.6 296.9 L473.0 296.1 L473.4 296.1 L473.8 296.4 L474.2 296.8 L474.6 296.0 L475.0 297.4 L475.4 296.9 L475.8 298.2 L476.2 297.7 L476.6 297.3 L477.0 296.1 L477.4 296.5 L477.8 296.1 L478.2 299.2 L478.6 296.4 L479.0 297.4 L479.4 298.1 L479.8 296.0 L480.2 296.7 L480.6 296.8 L481.0 296.1 L481.4 295.7 L481.8 296.4 L482.2 298.0 L482.6 297.2 L483.0 296.3 L483.4 295.8 L483.8 294.2 L484.2 296.5 L484.6 296.4 L485.0 295.2 L485.4 296.4 L485.8 296.1 L486.2 295.8 L486.6 295.5 L487.0 296.0 L487.4 296.0 L487.8 297.7 L488.2 297.5 L488.6 297.3 L489.0 297.1 L489.4 296.9 L489.8 299.3 L490.2 295.3 L490.6 298.0 L491.0 296.8 L491.4 296.7 L491.8 296.2 L492.2 296.5 L492.6 295.4 L493.0 295.5 L493.4 297.0 L493.8 295.6 L494.2 298.1 L494.6 298.5 L495.0 293.8 L495.4 295.6 L495.8 297.8 L496.2 298.0 L496.6 297.6 L497.0 297.7 L497.4 298.2 L497.8 298.5 L498.2 299.4 L498.6 297.7 L499.0 298.7 L499.4 296.1 L499.8 297.5 L500.2 296.6 L500.6 299.3 L501.0 300.1 L501.4 298.4 L501.8 297.1 L502.2 298.6 L502.6 298.4 L503.0 298.7 L503.4 299.2 L503.8 298.9 L504.2 295.4 L504.6 299.5 L505.0 297.8 L505.4 297.3 L505.8 299.2 L506.2 297.8 L506.6 296.6 L507.0 296.4 L507.4 298.1 L507.8 298.9 L508.2 299.4 L508.6 297.5 L509.0 297.2 L509.4 299.2 L509.8 297.3 L510.2 299.2 L510.6 298.4 L511.0 298.3 L511.4 297.7 L511.8 298.1 L512.2 297.5 L512.6 297.6 L513.0 297.9 L513.4 297.5 L513.8 298.4 L514.2 298.2 L514.6 298.1 L515.0 298.1 L515.4 298.2 L515.8 300.3 L516.2 298.8 L516.6 298.0 L517.0 298.3 L517.4 299.3 L517.8 298.9 L518.2 298.4 L518.6 298.3 L519.0 298.7 L519.4 298.7 L519.8 298.8 L520.2 297.0 L520.6 297.6 L521.0 296.1 L521.4 298.9 L521.8 299.4 L522.2 299.7 L522.6 298.6 L523.0 299.8 L523.4 298.5 L523.8 298.6 L524.2 296.9 L524.6 297.1 L525.0 297.5 L525.4 299.1 L525.8 299.9 L526.2 297.7 L526.6 298.5 L527.0 298.7 L527.4 297.6 L527.8 296.8 L528.2 298.1 L528.6 297.7 L529.0 298.8 L529.4 299.1 L529.8 299.4 L530.2 299.5 L530.6 299.7" fill="none" stroke="#008080" stroke-width="2.3" stroke-linejoin="round" stroke-linecap="butt"/>
<path d="M87.0 210.6 L87.4 210.6 L87.8 210.6 L88.2 211.0 L88.6 209.2 L89.0 209.6 L89.4 209.4 L89.8 209.4 L90.2 209.5 L90.6 210.6 L91.0 211.3 L91.4 210.6 L91.8 209.0 L92.2 209.8 L92.6 209.0 L93.0 209.7 L93.4 210.2 L93.8 209.7 L94.2 209.7 L94.6 208.8 L95.0 207.7 L95.4 207.8 L95.8 204.6 L96.0 216.1 L96.1 209.1 L96.2 209.3 L96.6 209.8 L97.0 208.8 L97.4 209.4 L97.8 209.5 L98.2 210.2 L98.6 209.6 L99.0 208.8 L99.4 210.2 L99.8 209.9 L100.2 210.0 L100.6 209.0 L101.0 209.7 L101.4 208.7 L101.8 208.6 L102.2 209.9 L102.6 209.9 L103.0 210.5 L103.4 211.2 L103.8 210.1 L104.2 211.4 L104.6 210.0 L105.0 210.8 L105.4 209.6 L105.8 210.5 L106.2 210.1 L106.6 210.4 L107.0 211.1 L107.4 209.6 L107.8 211.0 L108.2 210.5 L108.6 211.2 L109.0 211.4 L109.4 210.9 L109.8 211.3 L110.2 210.9 L110.6 211.9 L111.0 211.3 L111.4 212.0 L111.8 210.9 L112.2 212.9 L112.6 211.4 L113.0 212.8 L113.4 211.8 L113.8 212.3 L114.2 212.1 L114.6 212.4 L115.0 212.1 L115.4 213.0 L115.8 212.6 L116.2 212.6 L116.6 213.4 L117.0 211.9 L117.4 213.3 L117.8 212.6 L118.2 211.9 L118.6 213.2 L119.0 212.9 L119.4 214.1 L119.8 213.0 L120.2 213.5 L120.6 213.9 L121.0 212.8 L121.4 214.5 L121.8 213.6 L122.2 215.2 L122.6 215.5 L123.0 214.6 L123.4 213.6 L123.8 214.8 L124.2 214.7 L124.6 215.1 L125.0 214.4 L125.4 212.5 L125.6 220.5 L125.7 214.5 L125.8 214.6 L126.2 214.0 L126.6 215.7 L127.0 214.3 L127.4 214.4 L127.8 214.7 L128.2 213.8 L128.6 214.4 L129.0 214.8 L129.4 214.7 L129.8 214.9 L130.2 216.2 L130.6 215.7 L131.0 214.6 L131.4 215.4 L131.8 216.4 L132.2 215.7 L132.6 216.0 L133.0 216.1 L133.4 216.5 L133.8 216.1 L134.2 216.2 L134.6 215.7 L135.0 216.5 L135.4 215.8 L135.8 217.4 L136.2 216.4 L136.6 216.4 L137.0 217.2 L137.4 216.7 L137.8 216.9 L138.2 216.9 L138.6 216.6 L139.0 216.5 L139.4 216.9 L139.8 218.2 L140.2 217.1 L140.6 217.1 L141.0 217.2 L141.4 218.0 L141.8 219.1 L142.2 217.5 L142.6 218.5 L143.0 218.3 L143.4 218.0 L143.8 218.7 L144.2 217.9 L144.6 219.4 L145.0 219.1 L145.4 218.4 L145.8 220.1 L146.2 219.6 L146.6 219.8 L147.0 218.4 L147.4 219.1 L147.8 218.8 L148.2 219.6 L148.6 220.1 L149.0 218.1 L149.4 219.3 L149.8 219.3 L150.2 220.1 L150.6 219.5 L151.0 218.8 L151.4 219.7 L151.8 219.1 L152.2 219.4 L152.6 220.1 L153.0 219.7 L153.4 220.4 L153.8 219.4 L154.2 221.8 L154.6 221.2 L155.0 220.8 L155.4 219.7 L155.8 219.1 L156.2 219.9 L156.6 220.5 L157.0 222.2 L157.4 221.6 L157.8 220.5 L158.2 221.8 L158.6 222.1 L159.0 221.5 L159.4 222.5 L159.8 222.0 L160.2 221.4 L160.6 221.3 L161.0 221.7 L161.4 222.5 L161.8 221.0 L162.2 220.8 L162.6 222.2 L163.0 220.2 L163.4 223.1 L163.8 221.6 L164.2 222.2 L164.6 223.3 L165.0 221.6 L165.4 221.7 L165.8 223.9 L166.2 222.4 L166.6 222.2 L167.0 222.5 L167.4 223.1 L167.8 223.3 L168.2 222.7 L168.6 222.3 L169.0 222.9 L169.4 223.2 L169.8 224.0 L170.2 223.5 L170.6 224.6 L171.0 223.1 L171.4 224.1 L171.8 224.8 L172.2 224.5 L172.6 224.0 L173.0 223.3 L173.4 223.4 L173.8 223.7 L174.2 224.2 L174.6 224.0 L175.0 223.2 L175.4 223.8 L175.8 224.8 L176.2 224.9 L176.6 223.7 L177.0 224.6 L177.4 224.0 L177.8 224.8 L178.2 227.7 L178.6 225.8 L179.0 225.5 L179.4 225.4 L179.8 225.0 L180.2 224.4 L180.6 225.5 L181.0 225.4 L181.4 226.5 L181.8 224.3 L182.2 225.6 L182.6 226.2 L183.0 224.3 L183.4 226.0 L183.8 224.7 L184.2 225.9 L184.6 226.7 L185.0 225.7 L185.4 225.9 L185.8 225.4 L186.2 226.2 L186.6 226.8 L187.0 226.3 L187.4 226.8 L187.8 228.0 L188.2 228.7 L188.6 227.8 L189.0 229.6 L189.4 229.6 L189.8 230.9 L190.2 231.8 L190.6 232.3 L191.0 233.4 L191.4 232.6 L191.8 233.5 L192.2 233.9 L192.6 235.0 L193.0 235.6 L193.4 236.1 L193.8 236.0 L194.2 237.2 L194.6 237.5 L195.0 238.6 L195.4 238.6 L195.8 239.7 L196.2 239.4 L196.6 238.1 L197.0 239.3 L197.4 238.7 L197.8 240.3 L198.2 241.0 L198.6 240.3 L199.0 241.0 L199.4 239.7 L199.8 239.2 L200.2 240.5 L200.6 240.7 L201.0 239.9 L201.4 241.1 L201.8 241.1 L202.2 241.3 L202.6 241.8 L203.0 241.5 L203.4 240.7 L203.8 240.8 L204.2 241.4 L204.6 240.3 L205.0 241.7 L205.4 241.6 L205.8 240.8 L206.2 240.4 L206.6 243.2 L207.0 241.6 L207.4 241.9 L207.8 242.5 L208.2 242.1 L208.6 241.9 L209.0 242.0 L209.4 241.1 L209.8 242.7 L210.2 241.3 L210.6 242.6 L211.0 242.5 L211.4 241.0 L211.8 243.1 L212.2 241.3 L212.6 242.7 L213.0 241.8 L213.4 242.1 L213.8 241.7 L214.2 243.6 L214.6 242.9 L215.0 243.7 L215.4 243.3 L215.8 243.1 L216.2 242.9 L216.6 242.7 L217.0 243.5 L217.4 242.9 L217.8 242.8 L218.2 241.9 L218.6 242.5 L219.0 243.1 L219.4 242.5 L219.8 243.1 L220.2 242.8 L220.6 242.0 L221.0 242.5 L221.4 242.6 L221.8 242.9 L222.2 242.9 L222.6 244.0 L223.0 242.8 L223.4 242.2 L223.8 243.8 L224.2 243.3 L224.6 243.6 L225.0 245.4 L225.4 245.1 L225.8 244.3 L226.2 244.6 L226.6 244.0 L227.0 244.4 L227.4 243.4 L227.8 243.2 L228.2 243.2 L228.6 244.5 L229.0 244.4 L229.4 243.1 L229.8 244.2 L230.2 243.3 L230.6 244.3 L231.0 243.6 L231.4 244.5 L231.8 243.9 L232.2 243.7 L232.6 244.0 L233.0 244.1 L233.4 243.9 L233.8 243.4 L234.2 245.3 L234.6 243.9 L235.0 243.0 L235.4 242.8 L235.8 242.5 L236.2 243.8 L236.6 245.1 L237.0 243.0 L237.4 243.9 L237.8 243.0 L238.2 245.1 L238.6 244.7 L239.0 244.5 L239.4 245.2 L239.8 245.3 L240.2 245.0 L240.6 244.1 L241.0 243.7 L241.4 243.8 L241.8 243.2 L242.2 245.5 L242.6 244.3 L243.0 244.6 L243.4 244.8 L243.8 246.3 L244.2 244.5 L244.6 245.7 L245.0 245.2 L245.4 245.1 L245.8 243.9 L246.2 246.0 L246.6 244.9 L247.0 245.1 L247.4 245.4 L247.8 245.5 L248.2 246.1 L248.6 245.2 L249.0 245.8 L249.4 245.8 L249.8 245.5 L250.2 245.8 L250.6 245.3 L251.0 246.4 L251.4 245.0 L251.8 244.4 L252.2 245.3 L252.6 246.0 L253.0 245.3 L253.4 245.4 L253.8 245.8 L254.2 246.4 L254.6 246.1 L255.0 246.6 L255.4 245.3 L255.8 247.4 L256.2 247.0 L256.6 246.1 L257.0 247.5 L257.4 246.9 L257.8 247.3 L258.2 245.6 L258.6 247.5 L259.0 246.7 L259.4 245.2 L259.8 246.7 L260.2 246.1 L260.6 245.5 L261.0 246.1 L261.4 245.0 L261.8 246.9 L262.2 246.5 L262.6 246.4 L263.0 247.8 L263.4 247.2 L263.8 246.7 L264.2 246.9 L264.6 247.5 L265.0 248.4 L265.4 247.2 L265.8 246.9 L266.2 248.1 L266.6 247.5 L267.0 247.5 L267.4 248.9 L267.8 246.6 L268.2 247.5 L268.6 246.3 L269.0 247.5 L269.4 248.0 L269.8 248.5 L270.2 247.1 L270.6 248.5 L271.0 248.5 L271.4 248.1 L271.8 249.8 L272.2 248.3 L272.6 247.7 L273.0 248.5 L273.4 246.9 L273.8 249.1 L274.2 248.7 L274.6 248.0 L275.0 248.4 L275.4 248.3 L275.8 249.4 L276.2 247.9 L276.6 247.7 L277.0 247.2 L277.4 248.2 L277.8 247.6 L278.2 248.2 L278.6 249.0 L279.0 248.5 L279.4 248.1 L279.8 249.4 L280.2 248.4 L280.6 248.9 L281.0 249.4 L281.4 247.9 L281.8 248.2 L282.2 250.3 L282.6 248.5 L283.0 247.8 L283.4 248.3 L283.8 248.2 L284.2 247.7 L284.6 248.3 L285.0 248.5 L285.4 248.8 L285.8 249.0 L286.2 247.9 L286.6 248.1 L287.0 249.6 L287.4 248.8 L287.8 249.9 L288.2 249.5 L288.6 248.6 L289.0 249.7 L289.4 248.8 L289.8 249.6 L290.2 250.5 L290.6 251.1 L291.0 249.7 L291.4 250.3 L291.8 250.0 L292.2 250.4 L292.6 248.2 L293.0 249.7 L293.4 249.9 L293.8 250.1 L294.2 249.5 L294.6 250.5 L295.0 250.8 L295.4 250.3 L295.8 250.0 L296.2 249.9 L296.6 250.4 L297.0 251.2 L297.4 251.3 L297.8 250.0 L298.2 249.8 L298.6 249.7 L299.0 250.8 L299.4 250.5 L299.8 250.9 L300.2 251.1 L300.6 251.1 L301.0 251.0 L301.4 250.7 L301.8 251.2 L302.2 252.2 L302.6 252.7 L303.0 252.7 L303.4 253.1 L303.8 254.6 L304.2 253.7 L304.6 254.4 L305.0 254.3 L305.4 254.4 L305.8 254.3 L306.2 255.5 L306.6 255.4 L307.0 256.5 L307.4 255.5 L307.8 256.6 L308.2 257.8 L308.6 257.6 L309.0 258.3 L309.4 258.9 L309.8 257.6 L310.2 259.1 L310.6 259.2 L311.0 261.4 L311.4 260.7 L311.8 261.3 L312.2 262.9 L312.6 262.0 L313.0 262.5 L313.4 263.0 L313.8 262.4 L314.2 263.5 L314.6 263.4 L315.0 263.4 L315.4 263.0 L315.8 262.9 L316.2 263.0 L316.6 263.1 L317.0 262.2 L317.4 263.8 L317.8 264.1 L318.2 263.4 L318.6 263.2 L319.0 263.5 L319.4 263.5 L319.8 263.4 L320.2 264.7 L320.6 263.1 L321.0 264.1 L321.4 264.4 L321.8 264.3 L322.2 264.1 L322.6 263.8 L323.0 264.1 L323.4 265.1 L323.8 265.4 L324.2 264.0 L324.6 264.9 L325.0 265.0 L325.4 265.2 L325.8 264.7 L326.2 264.6 L326.6 264.8 L327.0 263.3 L327.4 264.2 L327.8 262.8 L328.2 262.5 L328.6 263.4 L329.0 262.9 L329.4 264.4 L329.8 265.0 L330.2 264.2 L330.6 264.5 L331.0 264.6 L331.4 264.5 L331.8 265.0 L332.2 265.0 L332.6 264.3 L333.0 264.1 L333.4 264.2 L333.8 265.1 L334.2 264.1 L334.6 265.5 L335.0 264.3 L335.4 265.4 L335.8 263.7 L336.2 264.2 L336.6 264.9 L337.0 264.9 L337.4 264.2 L337.8 265.8 L338.2 264.2 L338.6 264.5 L339.0 264.0 L339.4 265.4 L339.8 264.5 L340.2 264.3 L340.6 263.1 L341.0 264.8 L341.4 264.3 L341.8 265.1 L342.2 265.5 L342.6 264.4 L343.0 265.4 L343.4 261.7 L343.6 267.2 L343.7 264.7 L343.8 265.3 L344.2 264.9 L344.6 264.2 L345.0 264.5 L345.4 263.9 L345.8 265.5 L346.2 264.7 L346.6 263.7 L347.0 264.6 L347.4 263.7 L347.8 262.2 L348.2 265.8 L348.6 265.9 L349.0 264.2 L349.4 264.9 L349.8 265.3 L350.2 265.0 L350.6 264.7 L351.0 261.1 L351.2 268.6 L351.3 265.1 L351.4 265.0 L351.8 264.7 L352.2 265.1 L352.6 264.6 L353.0 264.3 L353.4 265.2 L353.8 263.7 L354.2 266.1 L354.6 263.9 L355.0 265.2 L355.4 265.4 L355.8 265.6 L356.2 265.5 L356.6 266.3 L357.0 264.3 L357.4 265.3 L357.8 265.5 L358.2 265.0 L358.6 264.9 L359.0 266.0 L359.4 264.7 L359.8 264.9 L360.2 265.0 L360.6 265.3 L361.0 265.7 L361.4 265.3 L361.8 265.9 L362.2 265.9 L362.6 266.1 L363.0 266.9 L363.4 265.4 L363.8 267.2 L364.2 265.5 L364.6 266.4 L365.0 266.3 L365.4 266.1 L365.8 264.7 L366.2 267.4 L366.6 265.6 L367.0 265.6 L367.4 266.9 L367.8 266.4 L368.2 267.6 L368.6 259.0 L368.8 274.5 L368.9 266.0 L369.0 266.4 L369.4 266.3 L369.8 266.8 L370.2 265.2 L370.6 266.4 L371.0 266.3 L371.4 265.8 L371.8 266.4 L372.2 265.3 L372.6 267.0 L373.0 267.4 L373.4 265.3 L373.8 266.4 L374.2 267.4 L374.6 266.8 L375.0 265.7 L375.4 265.7 L375.8 267.0 L376.2 267.6 L376.6 265.5 L377.0 266.4 L377.4 265.9 L377.8 266.4 L378.2 266.9 L378.6 266.9 L379.0 266.4 L379.4 268.4 L379.8 266.9 L380.2 266.9 L380.6 268.0 L381.0 267.1 L381.4 266.7 L381.8 267.4 L382.2 265.8 L382.6 267.5 L383.0 267.5 L383.4 267.3 L383.8 266.7 L384.2 266.5 L384.6 265.3 L385.0 266.3 L385.4 266.7 L385.8 267.3 L386.2 266.7 L386.6 266.5 L387.0 266.0 L387.4 266.6 L387.8 266.9 L388.2 268.0 L388.6 267.4 L389.0 267.2 L389.4 267.5 L389.8 267.3 L390.2 267.3 L390.6 266.2 L391.0 266.5 L391.4 266.9 L391.8 267.9 L392.2 267.3 L392.6 267.2 L393.0 267.8 L393.4 266.2 L393.8 267.8 L394.2 267.3 L394.6 266.6 L395.0 268.3 L395.4 266.3 L395.8 266.6 L396.2 267.6 L396.6 267.9 L397.0 267.3 L397.4 266.0 L397.8 267.4 L398.2 267.6 L398.6 269.4 L399.0 268.6 L399.4 267.7 L399.8 266.5 L400.2 267.9 L400.6 266.6 L401.0 267.5 L401.4 267.7 L401.8 267.3 L402.2 267.6 L402.6 267.6 L403.0 267.5 L403.4 269.3 L403.8 268.5 L404.2 268.3 L404.6 268.3 L405.0 268.6 L405.4 269.0 L405.8 269.3 L406.2 269.7 L406.6 269.0 L407.0 267.8 L407.4 270.0 L407.8 269.4 L408.2 269.2 L408.6 269.8 L409.0 267.7 L409.4 268.6 L409.8 268.5 L410.2 269.7 L410.6 268.2 L411.0 268.8 L411.4 269.9 L411.8 269.4 L412.2 268.7 L412.6 270.4 L413.0 267.9 L413.4 269.1 L413.8 268.5 L414.2 269.0 L414.6 268.6 L415.0 268.5 L415.4 269.6 L415.8 268.8 L416.2 270.5 L416.6 270.2 L417.0 271.7 L417.4 270.9 L417.8 271.2 L418.2 272.4 L418.6 273.7 L419.0 271.2 L419.4 272.9 L419.8 273.7 L420.2 272.6 L420.6 273.1 L421.0 275.1 L421.4 274.3 L421.8 274.9 L422.2 276.7 L422.6 274.8 L423.0 275.2 L423.4 274.1 L423.8 274.7 L424.2 275.2 L424.6 277.3 L425.0 277.2 L425.4 275.3 L425.8 278.3 L426.2 277.6 L426.6 277.2 L427.0 278.4 L427.4 278.4 L427.8 277.4 L428.2 276.7 L428.6 277.2 L429.0 277.9 L429.4 277.8 L429.8 277.8 L430.2 279.5 L430.6 278.0 L431.0 279.9 L431.4 278.8 L431.8 279.7 L432.2 278.9 L432.6 280.1 L433.0 279.4 L433.4 278.5 L433.8 280.2 L434.2 280.0 L434.6 280.7 L435.0 274.6 L435.2 284.1 L435.3 279.6 L435.4 278.9 L435.8 279.6 L436.2 277.8 L436.6 278.7 L437.0 281.0 L437.4 281.1 L437.8 280.3 L438.2 279.9 L438.6 280.3 L439.0 279.7 L439.4 277.5 L439.8 278.4 L440.2 280.8 L440.6 280.6 L441.0 279.6 L441.4 279.2 L441.8 279.3 L442.2 279.0 L442.6 279.3 L443.0 278.3 L443.4 279.9 L443.8 279.6 L444.2 280.0 L444.6 281.8 L445.0 280.9 L445.4 279.4 L445.8 280.8 L446.2 278.3 L446.6 280.5 L447.0 280.3 L447.4 279.9 L447.8 280.5 L448.2 281.3 L448.6 279.7 L449.0 279.5 L449.4 282.4 L449.8 280.9 L450.2 282.3 L450.6 280.2 L451.0 280.7 L451.4 280.1 L451.8 281.2 L452.2 280.1 L452.6 279.7 L453.0 281.9 L453.4 280.8 L453.8 278.8 L454.2 280.5 L454.6 280.3 L455.0 279.8 L455.4 280.3 L455.8 280.2 L456.2 280.5 L456.6 279.6 L457.0 278.5 L457.4 279.7 L457.8 281.0 L458.2 278.8 L458.6 280.6 L459.0 280.5 L459.4 279.7 L459.8 281.0 L460.2 280.2 L460.6 280.3 L461.0 279.7 L461.4 281.2 L461.8 282.3 L462.2 280.5 L462.6 282.5 L463.0 279.8 L463.4 280.6 L463.8 280.2 L464.2 283.0 L464.6 280.8 L465.0 282.3 L465.4 279.6 L465.8 281.7 L466.2 282.0 L466.6 281.4 L467.0 279.2 L467.4 282.0 L467.8 282.6 L468.2 283.0 L468.6 281.8 L469.0 279.8 L469.4 281.3 L469.8 282.6 L470.2 281.0 L470.6 282.2 L471.0 281.2 L471.4 282.0 L471.8 282.9 L472.2 281.4 L472.6 284.8 L473.0 282.2 L473.4 282.4 L473.8 281.3 L474.2 282.1 L474.6 281.9 L475.0 280.9 L475.4 280.8 L475.8 282.5 L476.2 282.1 L476.6 279.4 L477.0 279.8 L477.4 281.5 L477.8 282.0 L478.2 282.6 L478.6 280.8 L479.0 282.8 L479.4 282.1 L479.8 281.7 L480.2 282.3 L480.6 283.4 L481.0 283.0 L481.4 283.1 L481.8 281.7 L482.2 282.0 L482.6 280.5 L483.0 281.1 L483.4 281.4 L483.8 281.5 L484.2 282.5 L484.6 282.1 L485.0 282.7 L485.4 282.0 L485.8 282.9 L486.2 282.4 L486.6 283.3 L487.0 282.9 L487.4 282.7 L487.8 282.2 L488.2 281.2 L488.6 280.8 L489.0 284.4 L489.4 283.0 L489.8 282.9 L490.2 282.1 L490.6 281.8 L491.0 285.0 L491.4 280.8 L491.8 282.0 L492.2 282.3 L492.6 281.0 L493.0 280.7 L493.4 281.4 L493.8 281.9 L494.2 281.7 L494.6 283.0 L495.0 281.3 L495.4 282.8 L495.8 283.8 L496.2 283.0 L496.6 281.1 L497.0 279.6 L497.4 283.0 L497.8 282.8 L498.2 281.8 L498.6 283.8 L499.0 282.1 L499.4 282.5 L499.8 281.5 L500.2 282.8 L500.6 282.0 L501.0 282.2 L501.4 283.5 L501.8 283.0 L502.2 281.1 L502.6 283.1 L503.0 283.3 L503.4 281.8 L503.8 282.2 L504.2 282.4 L504.6 282.0 L505.0 282.5 L505.4 282.6 L505.8 281.6 L506.2 284.1 L506.6 281.7 L507.0 282.0 L507.4 284.6 L507.8 285.1 L508.2 283.1 L508.6 282.9 L509.0 282.2 L509.4 284.3 L509.8 283.1 L510.2 281.9 L510.6 283.0 L511.0 283.8 L511.4 283.3 L511.8 284.7 L512.2 283.8 L512.6 283.2 L513.0 282.9 L513.4 283.7 L513.8 284.4 L514.2 284.1 L514.6 284.5 L515.0 283.8 L515.4 284.2 L515.8 284.4 L516.2 283.2 L516.6 282.2 L517.0 285.1 L517.4 284.4 L517.8 283.5 L518.2 284.0 L518.6 283.2 L519.0 281.7 L519.4 283.5 L519.8 282.3 L520.2 283.8 L520.6 283.4 L521.0 284.2 L521.4 282.6 L521.8 282.9 L522.2 282.1 L522.6 282.0 L523.0 281.0 L523.4 283.2 L523.8 282.5 L524.2 281.9 L524.6 282.7 L525.0 282.3 L525.4 282.4 L525.8 283.5 L526.2 284.6 L526.6 283.2 L527.0 282.0 L527.4 282.7 L527.8 284.8 L528.2 282.6 L528.6 284.3 L529.0 283.0" fill="none" stroke="#ff00ff" stroke-width="2.5" stroke-linejoin="round" stroke-linecap="butt"/>
</g>
<g id="axes"><path d="M86.2 34.960000000000036 V368.75" stroke="#000" stroke-width="1.75" fill="none"/><path d="M85.4 368.0 H539.27" stroke="#000" stroke-width="1.75" fill="none"/><path d="M79.0 368.0 H86.2 M82.4 344.3 H86.2 M79.0 320.5 H86.2 M82.4 296.8 H86.2 M79.0 273.1 H86.2 M82.4 249.3 H86.2 M79.0 225.6 H86.2 M82.4 201.9 H86.2 M79.0 178.1 H86.2 M82.4 154.4 H86.2 M79.0 130.7 H86.2 M82.4 106.9 H86.2 M79.0 83.2 H86.2 M82.4 59.4 H86.2 M79.0 35.7 H86.2 M86.2 368.0 V375.2 M121.0 368.0 V371.8 M155.8 368.0 V375.2 M190.6 368.0 V371.8 M225.4 368.0 V375.2 M260.2 368.0 V371.8 M294.9 368.0 V375.2 M329.7 368.0 V371.8 M364.5 368.0 V375.2 M399.3 368.0 V371.8 M434.1 368.0 V375.2 M468.9 368.0 V371.8 M503.7 368.0 V375.2 M538.5 368.0 V371.8 " stroke="#000" stroke-width="1.65" fill="none"/></g>
<g id="ticklabels"><text class="tk" transform="translate(75.5 373.1) scale(0.96 1)" text-anchor="end">0.3</text><text class="tk" transform="translate(75.5 325.6) scale(0.96 1)" text-anchor="end">0.4</text><text class="tk" transform="translate(75.5 278.2) scale(0.96 1)" text-anchor="end">0.5</text><text class="tk" transform="translate(75.5 230.7) scale(0.96 1)" text-anchor="end">0.6</text><text class="tk" transform="translate(75.5 183.2) scale(0.96 1)" text-anchor="end">0.7</text><text class="tk" transform="translate(75.5 135.8) scale(0.96 1)" text-anchor="end">0.8</text><text class="tk" transform="translate(75.5 88.3) scale(0.96 1)" text-anchor="end">0.9</text><text class="tk" transform="translate(75.5 40.8) scale(0.96 1)" text-anchor="end">1.0</text><text class="tk" transform="translate(86.2 393.7) scale(0.96 1)" text-anchor="middle">0</text><text class="tk" transform="translate(155.8 393.7) scale(0.96 1)" text-anchor="middle">20</text><text class="tk" transform="translate(225.4 393.7) scale(0.96 1)" text-anchor="middle">40</text><text class="tk" transform="translate(294.9 393.7) scale(0.96 1)" text-anchor="middle">60</text><text class="tk" transform="translate(364.5 393.7) scale(0.96 1)" text-anchor="middle">80</text><text class="tk" transform="translate(434.1 393.7) scale(0.96 1)" text-anchor="middle">100</text><text class="tk" transform="translate(503.7 393.7) scale(0.96 1)" text-anchor="middle">120</text></g>
<text class="ax" transform="translate(263.8 429) scale(0.98 1)">Time, min</text>
<text class="ax" transform="translate(29.6 230.7) rotate(-90)">H<tspan font-size="15.2px" dy="9.2">2</tspan><tspan dy="-9.2" dx="-1">/CO</tspan></text>
<text class="an" transform="translate(112.7 186.8) scale(1.025 1)">700</text>
<text class="an" transform="translate(229.3 223.0) scale(1.025 1)">650</text>
<text class="an" transform="translate(340.6 242.7) scale(1.025 1)">600</text>
<text class="an" transform="translate(457.0 260.4) scale(1.025 1)">550</text>
<path d="M317 24.7 H378.2" stroke="#ff00ff" stroke-width="2" fill="none"/>
<text class="lg" transform="translate(385.4 33.5) scale(0.962 1)">Ni-CeO<tspan font-size="16px" dy="10.4" dx="0.8">2</tspan></text>
<path d="M317 66 H378.2" stroke="#000000" stroke-width="2" fill="none"/>
<text class="lg" transform="translate(385.4 74.6) scale(0.962 1)">Ni-CeTi0.15</text>
<path d="M317 98.8 H378.2" stroke="#ff0000" stroke-width="2" fill="none"/>
<text class="lg" transform="translate(385.4 107.4) scale(0.962 1)">Ni-CeTi0.25</text>
<path d="M317 131.8 H378.2" stroke="#0000ff" stroke-width="2" fill="none"/>
<text class="lg" transform="translate(385.4 140.2) scale(0.962 1)">Ni-CeTi0.35</text>
<path d="M317 164.3 H378.2" stroke="#008080" stroke-width="2" fill="none"/>
<text class="lg" transform="translate(385.4 172.8) scale(0.962 1)">Ni-CeTi0.45</text>
<text class="cap" transform="translate(260.1 493.8) scale(1.03 1)">(<tspan font-weight="bold" dx="0.3">e</tspan><tspan dx="0.3">)</tspan></text>
</svg></body></html>
